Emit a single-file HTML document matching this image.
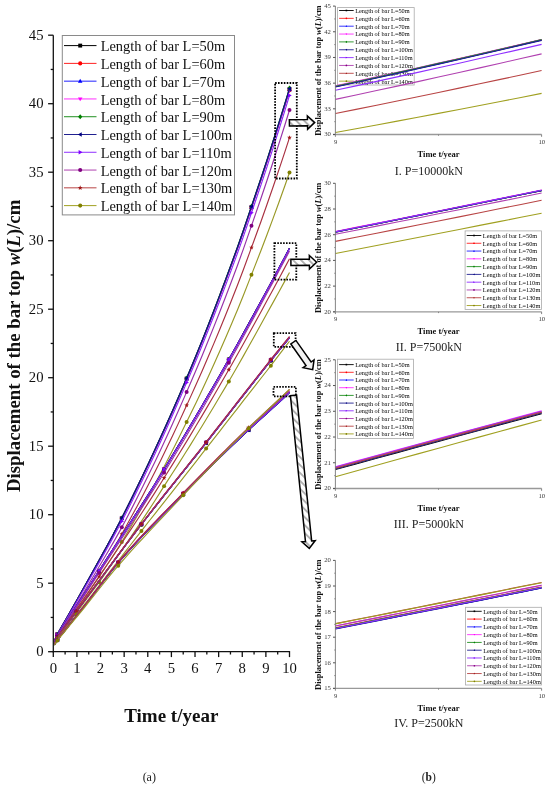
<!DOCTYPE html>
<html><head><meta charset="utf-8"><style>
html,body{margin:0;padding:0;background:#fff;}
body{width:550px;height:788px;position:relative;overflow:hidden;}
svg text{font-family:"Liberation Serif","Times New Roman",serif;}
</style></head><body>
<svg width="550" height="788" viewBox="0 0 550 788" style="position:absolute;left:0;top:0">
<defs><pattern id="hatch" patternUnits="userSpaceOnUse" width="5.6" height="4" patternTransform="rotate(-45)"><rect width="5.6" height="4" fill="#fff"/><rect width="1.9" height="4" fill="#b0b0b0"/></pattern><linearGradient id="g3" x1="0" y1="0" x2="1" y2="0"><stop offset="0" stop-color="#fff"/><stop offset="0.5" stop-color="#ccc"/><stop offset="1" stop-color="#fff"/></linearGradient></defs>
<rect x="62.3" y="35.5" width="172.2" height="179.4" fill="#fff" stroke="#8a8a8a" stroke-width="1"/>
<line x1="64" y1="45.6" x2="96.5" y2="45.6" stroke="#000000" stroke-width="1"/>
<rect x="78.25" y="43.65" width="3.9" height="3.9" fill="#000000"/>
<text x="100.7" y="51.2" font-size="14.4" fill="#111">Length of bar L=50m</text>
<line x1="64" y1="63.38" x2="96.5" y2="63.38" stroke="#FF2020" stroke-width="1"/>
<circle cx="80.2" cy="63.38" r="2.05" fill="#FF0000"/>
<text x="100.7" y="68.98" font-size="14.4" fill="#111">Length of bar L=60m</text>
<line x1="64" y1="81.16" x2="96.5" y2="81.16" stroke="#2020FF" stroke-width="1"/>
<polygon points="80.2,78.82 82.44,82.72 77.96,82.72" fill="#0000FF"/>
<text x="100.7" y="86.76" font-size="14.4" fill="#111">Length of bar L=70m</text>
<line x1="64" y1="98.94" x2="96.5" y2="98.94" stroke="#FF30FF" stroke-width="1"/>
<polygon points="80.2,101.28 82.44,97.38 77.96,97.38" fill="#FF00FF"/>
<text x="100.7" y="104.54" font-size="14.4" fill="#111">Length of bar L=80m</text>
<line x1="64" y1="116.72" x2="96.5" y2="116.72" stroke="#209020" stroke-width="1"/>
<polygon points="80.2,114.19 82.34,116.72 80.2,119.25 78.06,116.72" fill="#008000"/>
<text x="100.7" y="122.32" font-size="14.4" fill="#111">Length of bar L=90m</text>
<line x1="64" y1="134.5" x2="96.5" y2="134.5" stroke="#202090" stroke-width="1"/>
<polygon points="77.86,134.5 81.76,132.26 81.76,136.74" fill="#000080"/>
<text x="100.7" y="140.1" font-size="14.4" fill="#111">Length of bar L=100m</text>
<line x1="64" y1="152.28" x2="96.5" y2="152.28" stroke="#9030FF" stroke-width="1"/>
<polygon points="82.54,152.28 78.64,150.04 78.64,154.52" fill="#8000FF"/>
<text x="100.7" y="157.88" font-size="14.4" fill="#111">Length of bar L=110m</text>
<line x1="64" y1="170.06" x2="96.5" y2="170.06" stroke="#B040B0" stroke-width="1"/>
<circle cx="80.2" cy="170.06" r="2.05" fill="#800080"/>
<text x="100.7" y="175.66" font-size="14.4" fill="#111">Length of bar L=120m</text>
<line x1="64" y1="187.84" x2="96.5" y2="187.84" stroke="#B84444" stroke-width="1"/>
<polygon points="80.2,185.31 80.83,186.97 82.61,187.06 81.22,188.17 81.69,189.89 80.2,188.91 78.71,189.89 79.18,188.17 77.79,187.06 79.57,186.97" fill="#A01818"/>
<text x="100.7" y="193.44" font-size="14.4" fill="#111">Length of bar L=130m</text>
<line x1="64" y1="205.62" x2="96.5" y2="205.62" stroke="#A0A020" stroke-width="1"/>
<circle cx="80.2" cy="205.62" r="2.05" fill="#808000"/>
<text x="100.7" y="211.22" font-size="14.4" fill="#111">Length of bar L=140m</text>
<polyline points="54.48,640.75 57.32,634.18 60.39,628.92 66.29,618.71 72.2,608.4 78.1,598 84.01,587.52 89.91,576.94 95.82,566.29 101.72,555.65 107.63,544.92 113.53,533.99 119.44,522.74 125.34,511.11 131.25,499.27 137.15,487.25 143.06,475.04 148.96,462.63 154.87,450.03 160.77,437.21 166.68,424.18 172.58,410.94 178.49,397.48 184.39,383.78 190.3,369.84 196.2,355.58 202.11,341 208.01,326.12 213.92,310.94 219.82,295.49 225.73,279.77 231.63,263.8 237.54,247.59 243.44,230.78 249.35,213.32 255.25,195.92 261.16,178.46 267.06,160.57 272.97,142.27 278.87,123.64 284.78,104.66 289.5,89.19" fill="none" stroke="#000000" stroke-width="1.15"/>
<rect x="55.42" y="632.28" width="3.8" height="3.8" fill="#000000"/>
<rect x="119.9" y="516.22" width="3.8" height="3.8" fill="#000000"/>
<rect x="184.73" y="376.62" width="3.8" height="3.8" fill="#000000"/>
<rect x="249.57" y="205.13" width="3.8" height="3.8" fill="#000000"/>
<rect x="287.6" y="87.29" width="3.8" height="3.8" fill="#000000"/>
<polyline points="54.48,640.77 57.32,634.22 60.39,628.96 66.29,618.78 72.2,608.49 78.1,598.11 84.01,587.64 89.91,577.09 95.82,566.46 101.72,555.84 107.63,545.13 113.53,534.22 119.44,523 125.34,511.39 131.25,499.58 137.15,487.58 143.06,475.39 148.96,463.01 154.87,450.43 160.77,437.64 166.68,424.64 172.58,411.42 178.49,397.99 184.39,384.32 190.3,370.41 196.2,356.17 202.11,341.62 208.01,326.77 213.92,311.62 219.82,296.2 225.73,280.52 231.63,264.58 237.54,248.4 243.44,231.62 249.35,214.2 255.25,196.83 261.16,179.41 267.06,161.55 272.97,143.29 278.87,124.7 284.78,105.75 289.5,90.32" fill="none" stroke="#FF1818" stroke-width="1.15"/>
<circle cx="57.32" cy="634.22" r="1.99" fill="#FF0000"/>
<circle cx="121.8" cy="518.39" r="1.99" fill="#FF0000"/>
<circle cx="186.63" cy="379.07" r="1.99" fill="#FF0000"/>
<circle cx="251.47" cy="207.92" r="1.99" fill="#FF0000"/>
<circle cx="289.5" cy="90.32" r="1.99" fill="#FF0000"/>
<polyline points="54.48,640.76 57.32,634.2 60.39,628.94 66.29,618.74 72.2,608.45 78.1,598.06 84.01,587.58 89.91,577.02 95.82,566.38 101.72,555.74 107.63,545.03 113.53,534.11 119.44,522.87 125.34,511.25 131.25,499.43 137.15,487.42 143.06,475.22 148.96,462.82 154.87,450.23 160.77,437.43 166.68,424.41 172.58,411.18 178.49,397.73 184.39,384.05 190.3,370.12 196.2,355.88 202.11,341.31 208.01,326.44 213.92,311.28 219.82,295.85 225.73,280.14 231.63,264.19 237.54,247.99 243.44,231.2 249.35,213.76 255.25,196.38 261.16,178.93 267.06,161.06 272.97,142.78 278.87,124.17 284.78,105.21 289.5,89.76" fill="none" stroke="#1818FF" stroke-width="1.15"/>
<polygon points="57.32,631.92 59.5,635.72 55.13,635.72" fill="#0000FF"/>
<polygon points="121.8,515.98 123.98,519.78 119.61,519.78" fill="#0000FF"/>
<polygon points="186.63,376.51 188.82,380.31 184.45,380.31" fill="#0000FF"/>
<polygon points="251.47,205.2 253.66,209 249.29,209" fill="#0000FF"/>
<polygon points="289.5,87.48 291.69,91.28 287.31,91.28" fill="#0000FF"/>
<polyline points="54.48,640.75 57.32,634.18 60.39,628.92 66.29,618.71 72.2,608.4 78.1,598 84.01,587.52 89.91,576.94 95.82,566.29 101.72,555.65 107.63,544.92 113.53,533.99 119.44,522.74 125.34,511.11 131.25,499.27 137.15,487.25 143.06,475.04 148.96,462.63 154.87,450.03 160.77,437.21 166.68,424.18 172.58,410.94 178.49,397.48 184.39,383.78 190.3,369.84 196.2,355.58 202.11,341 208.01,326.12 213.92,310.94 219.82,295.49 225.73,279.77 231.63,263.8 237.54,247.59 243.44,230.78 249.35,213.32 255.25,195.92 261.16,178.46 267.06,160.57 272.97,142.27 278.87,123.64 284.78,104.66 289.5,89.19" fill="none" stroke="#FF20FF" stroke-width="1.15"/>
<polygon points="57.32,636.46 59.5,632.66 55.13,632.66" fill="#FF00FF"/>
<polygon points="121.8,520.4 123.98,516.6 119.61,516.6" fill="#FF00FF"/>
<polygon points="186.63,380.8 188.82,377 184.45,377" fill="#FF00FF"/>
<polygon points="251.47,209.31 253.66,205.51 249.29,205.51" fill="#FF00FF"/>
<polygon points="289.5,91.47 291.69,87.67 287.31,87.67" fill="#FF00FF"/>
<polyline points="54.48,640.73 57.32,634.15 60.39,628.87 66.29,618.64 72.2,608.32 78.1,597.9 84.01,587.39 89.91,576.79 95.82,566.12 101.72,555.46 107.63,544.71 113.53,533.75 119.44,522.48 125.34,510.83 131.25,498.97 137.15,486.92 143.06,474.69 148.96,462.26 154.87,449.62 160.77,436.78 166.68,423.73 172.58,410.46 178.49,396.97 184.39,383.25 190.3,369.28 196.2,354.99 202.11,340.38 208.01,325.46 213.92,310.26 219.82,294.78 225.73,279.03 231.63,263.02 237.54,246.78 243.44,229.94 249.35,212.44 255.25,195.01 261.16,177.51 267.06,159.59 272.97,141.25 278.87,122.59 284.78,103.56 289.5,88.07" fill="none" stroke="#108010" stroke-width="1.15"/>
<polygon points="57.32,631.68 59.41,634.15 57.32,636.62 55.23,634.15" fill="#008000"/>
<polygon points="121.8,515.38 123.89,517.85 121.8,520.32 119.71,517.85" fill="#008000"/>
<polygon points="186.63,375.5 188.72,377.97 186.63,380.44 184.54,377.97" fill="#008000"/>
<polygon points="251.47,203.67 253.56,206.14 251.47,208.61 249.38,206.14" fill="#008000"/>
<polygon points="289.5,85.6 291.59,88.07 289.5,90.54 287.41,88.07" fill="#008000"/>
<polyline points="54.48,640.74 57.32,634.16 60.39,628.89 66.29,618.68 72.2,608.36 78.1,597.95 84.01,587.45 89.91,576.87 95.82,566.21 101.72,555.55 107.63,544.81 113.53,533.87 119.44,522.61 125.34,510.97 131.25,499.12 137.15,487.09 143.06,474.86 148.96,462.44 154.87,449.82 160.77,437 166.68,423.96 172.58,410.7 178.49,397.22 184.39,383.52 190.3,369.56 196.2,355.28 202.11,340.69 208.01,325.79 213.92,310.6 219.82,295.13 225.73,279.4 231.63,263.41 237.54,247.18 243.44,230.36 249.35,212.88 255.25,195.46 261.16,177.99 267.06,160.08 272.97,141.76 278.87,123.11 284.78,104.11 289.5,88.63" fill="none" stroke="#101088" stroke-width="1.15"/>
<polygon points="55.04,634.16 58.84,631.98 58.84,636.35" fill="#000080"/>
<polygon points="119.52,517.99 123.32,515.8 123.32,520.17" fill="#000080"/>
<polygon points="184.35,378.25 188.15,376.06 188.15,380.43" fill="#000080"/>
<polygon points="249.19,206.59 252.99,204.4 252.99,208.77" fill="#000080"/>
<polygon points="287.22,88.63 291.02,86.44 291.02,90.81" fill="#000080"/>
<polyline points="54.48,641.01 57.32,634.6 60.39,629.46 66.29,619.5 72.2,609.44 78.1,599.29 84.01,589.06 89.91,578.74 95.82,568.35 101.72,557.95 107.63,547.48 113.53,536.82 119.44,525.84 125.34,514.42 131.25,502.73 137.15,490.85 143.06,478.76 148.96,466.46 154.87,453.94 160.77,441.2 166.68,428.23 172.58,415.03 178.49,401.58 184.39,387.89 190.3,374.04 196.2,359.94 202.11,345.52 208.01,330.79 213.92,315.77 219.82,300.47 225.73,284.91 231.63,269.09 237.54,253.02 243.44,236.36 249.35,219.05 255.25,201.76 261.16,184.38 267.06,166.56 272.97,148.32 278.87,129.75 284.78,110.82 289.5,95.39" fill="none" stroke="#8828F8" stroke-width="1.15"/>
<polygon points="59.6,634.6 55.8,632.42 55.8,636.79" fill="#8000FF"/>
<polygon points="124.08,521.33 120.28,519.15 120.28,523.52" fill="#8000FF"/>
<polygon points="188.91,382.62 185.11,380.44 185.11,384.81" fill="#8000FF"/>
<polygon points="253.75,212.82 249.95,210.63 249.95,215" fill="#8000FF"/>
<polygon points="291.78,95.39 287.98,93.2 287.98,97.57" fill="#8000FF"/>
<polyline points="54.48,641.51 57.32,635.39 60.39,630.49 66.29,620.99 72.2,611.39 78.1,601.71 84.01,591.95 89.91,582.1 95.82,572.19 101.72,562.28 107.63,552.29 113.53,542.12 119.44,531.65 125.34,520.66 131.25,509.36 137.15,497.83 143.06,486.08 148.96,474.11 154.87,461.9 160.77,449.44 166.68,436.75 172.58,423.79 178.49,410.59 184.39,397.11 190.3,383.56 196.2,369.8 202.11,355.72 208.01,341.33 213.92,326.65 219.82,311.68 225.73,296.44 231.63,280.94 237.54,265.19 243.44,248.84 249.35,231.85 255.25,214.85 261.16,197.75 267.06,180.21 272.97,162.25 278.87,143.94 284.78,125.26 289.5,110.03" fill="none" stroke="#9830A8" stroke-width="1.15"/>
<circle cx="57.32" cy="635.39" r="1.99" fill="#800080"/>
<circle cx="121.8" cy="527.35" r="1.99" fill="#800080"/>
<circle cx="186.63" cy="391.92" r="1.99" fill="#800080"/>
<circle cx="251.47" cy="225.73" r="1.99" fill="#800080"/>
<circle cx="289.5" cy="110.03" r="1.99" fill="#800080"/>
<polyline points="54.48,642.07 57.32,636.29 60.39,631.65 66.29,622.67 72.2,613.6 78.1,604.45 84.01,595.23 89.91,585.92 95.82,576.55 101.72,567.19 107.63,557.75 113.53,548.13 119.44,538.23 125.34,527.83 131.25,517.09 137.15,506.15 143.06,494.99 148.96,483.6 154.87,471.99 160.77,460.14 166.68,448.05 172.58,435.71 178.49,423.12 184.39,410.27 190.3,397.38 196.2,384.32 202.11,370.96 208.01,357.3 213.92,343.37 219.82,329.16 225.73,314.69 231.63,299.97 237.54,285.01 243.44,269.49 249.35,253.35 255.25,237.21 261.16,220.96 267.06,204.3 272.97,187.23 278.87,169.84 284.78,152.09 289.5,137.62" fill="none" stroke="#A83040" stroke-width="1.15"/>
<polygon points="57.32,633.82 57.93,635.44 59.66,635.52 58.31,636.61 58.77,638.28 57.32,637.33 55.86,638.28 56.32,636.61 54.97,635.52 56.7,635.44" fill="#A01818"/>
<polygon points="121.8,531.7 122.41,533.32 124.15,533.4 122.79,534.49 123.25,536.17 121.8,535.21 120.35,536.17 120.8,534.49 119.45,533.4 121.18,533.32" fill="#A01818"/>
<polygon points="186.63,402.85 187.25,404.47 188.98,404.56 187.63,405.64 188.09,407.32 186.63,406.36 185.18,407.32 185.64,405.64 184.29,404.56 186.02,404.47" fill="#A01818"/>
<polygon points="251.47,245.07 252.09,246.69 253.82,246.77 252.47,247.86 252.92,249.54 251.47,248.58 250.02,249.54 250.48,247.86 249.12,246.77 250.86,246.69" fill="#A01818"/>
<polygon points="289.5,135.15 290.11,136.77 291.85,136.85 290.49,137.94 290.95,139.62 289.5,138.66 288.05,139.62 288.51,137.94 287.15,136.85 288.89,136.77" fill="#A01818"/>
<polyline points="54.48,642.71 57.32,637.32 60.39,633 66.29,624.62 72.2,616.16 78.1,607.63 84.01,599.02 89.91,590.34 95.82,581.6 101.72,572.86 107.63,564.05 113.53,555.08 119.44,545.85 125.34,536.15 131.25,526.14 137.15,515.94 143.06,505.53 148.96,494.92 154.87,484.1 160.77,473.06 166.68,461.8 172.58,450.3 178.49,438.58 184.39,426.61 190.3,414.59 196.2,402.4 202.11,389.93 208.01,377.18 213.92,364.17 219.82,350.91 225.73,337.4 231.63,323.65 237.54,309.68 243.44,295.19 249.35,280.12 255.25,265.09 261.16,249.98 267.06,234.49 272.97,218.63 278.87,202.46 284.78,185.97 289.5,172.53" fill="none" stroke="#989826" stroke-width="1.15"/>
<circle cx="57.32" cy="637.32" r="1.99" fill="#808000"/>
<circle cx="121.8" cy="542.06" r="1.99" fill="#808000"/>
<circle cx="186.63" cy="422" r="1.99" fill="#808000"/>
<circle cx="251.47" cy="274.69" r="1.99" fill="#808000"/>
<circle cx="289.5" cy="172.53" r="1.99" fill="#808000"/>
<polyline points="54.48,641.84 57.32,635.81 60.39,631.05 66.29,621.89 72.2,612.73 78.1,603.57 84.01,594.39 89.91,585.21 95.82,576.02 101.72,566.83 107.63,557.68 113.53,548.56 119.44,539.45 125.34,530.35 131.25,521.23 137.15,512.07 143.06,502.85 148.96,493.57 154.87,484.19 160.77,474.71 166.68,465.12 172.58,455.42 178.49,445.65 184.39,435.8 190.3,425.87 196.2,415.87 202.11,405.79 208.01,395.66 213.92,385.45 219.82,375.19 225.73,364.87 231.63,354.48 237.54,343.98 243.44,333.36 249.35,322.65 255.25,311.87 261.16,301.04 267.06,290.17 272.97,279.24 278.87,268.23 284.78,257.15 289.5,248.24" fill="none" stroke="#000000" stroke-width="1.15"/>
<rect x="55.42" y="633.91" width="3.8" height="3.8" fill="#000000"/>
<rect x="97.22" y="568.97" width="3.8" height="3.8" fill="#000000"/>
<rect x="162.18" y="467.45" width="3.8" height="3.8" fill="#000000"/>
<rect x="226.9" y="357.58" width="3.8" height="3.8" fill="#000000"/>
<polyline points="54.48,641.84 57.32,635.81 60.39,631.05 66.29,621.89 72.2,612.73 78.1,603.57 84.01,594.39 89.91,585.21 95.82,576.02 101.72,566.83 107.63,557.68 113.53,548.56 119.44,539.45 125.34,530.35 131.25,521.23 137.15,512.07 143.06,502.85 148.96,493.57 154.87,484.19 160.77,474.71 166.68,465.12 172.58,455.42 178.49,445.65 184.39,435.8 190.3,425.87 196.2,415.87 202.11,405.79 208.01,395.66 213.92,385.45 219.82,375.19 225.73,364.87 231.63,354.48 237.54,343.98 243.44,333.36 249.35,322.65 255.25,311.87 261.16,301.04 267.06,290.17 272.97,279.24 278.87,268.23 284.78,257.15 289.5,248.24" fill="none" stroke="#FF1818" stroke-width="1.15"/>
<circle cx="57.32" cy="635.81" r="1.99" fill="#FF0000"/>
<circle cx="99.12" cy="570.87" r="1.99" fill="#FF0000"/>
<circle cx="164.08" cy="469.35" r="1.99" fill="#FF0000"/>
<circle cx="228.8" cy="359.48" r="1.99" fill="#FF0000"/>
<polyline points="54.48,641.84 57.32,635.81 60.39,631.05 66.29,621.89 72.2,612.73 78.1,603.57 84.01,594.39 89.91,585.21 95.82,576.02 101.72,566.83 107.63,557.68 113.53,548.56 119.44,539.45 125.34,530.35 131.25,521.23 137.15,512.07 143.06,502.85 148.96,493.57 154.87,484.19 160.77,474.71 166.68,465.12 172.58,455.42 178.49,445.65 184.39,435.8 190.3,425.87 196.2,415.87 202.11,405.79 208.01,395.66 213.92,385.45 219.82,375.19 225.73,364.87 231.63,354.48 237.54,343.98 243.44,333.36 249.35,322.65 255.25,311.87 261.16,301.04 267.06,290.17 272.97,279.24 278.87,268.23 284.78,257.15 289.5,248.24" fill="none" stroke="#1818FF" stroke-width="1.15"/>
<polygon points="57.32,633.53 59.5,637.33 55.13,637.33" fill="#0000FF"/>
<polygon points="99.12,568.59 101.31,572.39 96.94,572.39" fill="#0000FF"/>
<polygon points="164.08,467.07 166.26,470.87 161.89,470.87" fill="#0000FF"/>
<polygon points="228.8,357.2 230.98,361 226.61,361" fill="#0000FF"/>
<polyline points="54.48,641.84 57.32,635.81 60.39,631.05 66.29,621.89 72.2,612.73 78.1,603.57 84.01,594.39 89.91,585.21 95.82,576.02 101.72,566.83 107.63,557.68 113.53,548.56 119.44,539.45 125.34,530.35 131.25,521.23 137.15,512.07 143.06,502.85 148.96,493.57 154.87,484.19 160.77,474.71 166.68,465.12 172.58,455.42 178.49,445.65 184.39,435.8 190.3,425.87 196.2,415.87 202.11,405.79 208.01,395.66 213.92,385.45 219.82,375.19 225.73,364.87 231.63,354.48 237.54,343.98 243.44,333.36 249.35,322.65 255.25,311.87 261.16,301.04 267.06,290.17 272.97,279.24 278.87,268.23 284.78,257.15 289.5,248.24" fill="none" stroke="#FF20FF" stroke-width="1.15"/>
<polygon points="57.32,638.09 59.5,634.29 55.13,634.29" fill="#FF00FF"/>
<polygon points="99.12,573.15 101.31,569.35 96.94,569.35" fill="#FF00FF"/>
<polygon points="164.08,471.63 166.26,467.83 161.89,467.83" fill="#FF00FF"/>
<polygon points="228.8,361.76 230.98,357.96 226.61,357.96" fill="#FF00FF"/>
<polyline points="54.48,641.84 57.32,635.81 60.39,631.05 66.29,621.89 72.2,612.73 78.1,603.57 84.01,594.39 89.91,585.21 95.82,576.02 101.72,566.83 107.63,557.68 113.53,548.56 119.44,539.45 125.34,530.35 131.25,521.23 137.15,512.07 143.06,502.85 148.96,493.57 154.87,484.19 160.77,474.71 166.68,465.12 172.58,455.42 178.49,445.65 184.39,435.8 190.3,425.87 196.2,415.87 202.11,405.79 208.01,395.66 213.92,385.45 219.82,375.19 225.73,364.87 231.63,354.48 237.54,343.98 243.44,333.36 249.35,322.65 255.25,311.87 261.16,301.04 267.06,290.17 272.97,279.24 278.87,268.23 284.78,257.15 289.5,248.24" fill="none" stroke="#108010" stroke-width="1.15"/>
<polygon points="57.32,633.34 59.41,635.81 57.32,638.28 55.23,635.81" fill="#008000"/>
<polygon points="99.12,568.4 101.21,570.87 99.12,573.34 97.03,570.87" fill="#008000"/>
<polygon points="164.08,466.88 166.17,469.35 164.08,471.82 161.99,469.35" fill="#008000"/>
<polygon points="228.8,357.01 230.89,359.48 228.8,361.95 226.71,359.48" fill="#008000"/>
<polyline points="54.48,641.84 57.32,635.81 60.39,631.05 66.29,621.89 72.2,612.73 78.1,603.57 84.01,594.39 89.91,585.21 95.82,576.02 101.72,566.83 107.63,557.68 113.53,548.56 119.44,539.45 125.34,530.35 131.25,521.23 137.15,512.07 143.06,502.85 148.96,493.57 154.87,484.19 160.77,474.71 166.68,465.12 172.58,455.42 178.49,445.65 184.39,435.8 190.3,425.87 196.2,415.87 202.11,405.79 208.01,395.66 213.92,385.45 219.82,375.19 225.73,364.87 231.63,354.48 237.54,343.98 243.44,333.36 249.35,322.65 255.25,311.87 261.16,301.04 267.06,290.17 272.97,279.24 278.87,268.23 284.78,257.15 289.5,248.24" fill="none" stroke="#101088" stroke-width="1.15"/>
<polygon points="55.04,635.81 58.84,633.62 58.84,637.99" fill="#000080"/>
<polygon points="96.84,570.87 100.64,568.69 100.64,573.05" fill="#000080"/>
<polygon points="161.8,469.35 165.6,467.17 165.6,471.54" fill="#000080"/>
<polygon points="226.52,359.48 230.32,357.29 230.32,361.66" fill="#000080"/>
<polyline points="54.48,641.85 57.32,635.82 60.39,631.07 66.29,621.92 72.2,612.77 78.1,603.61 84.01,594.45 89.91,585.28 95.82,576.1 101.72,566.91 107.63,557.77 113.53,548.66 119.44,539.57 125.34,530.47 131.25,521.36 137.15,512.21 143.06,503 148.96,493.73 154.87,484.36 160.77,474.89 166.68,465.3 172.58,455.62 178.49,445.86 184.39,436.01 190.3,426.1 196.2,416.1 202.11,406.04 208.01,395.91 213.92,385.72 219.82,375.47 225.73,365.15 231.63,354.78 237.54,344.28 243.44,333.68 249.35,322.98 255.25,312.21 261.16,301.39 267.06,290.53 272.97,279.61 278.87,268.61 284.78,257.54 289.5,248.64" fill="none" stroke="#8828F8" stroke-width="1.15"/>
<polygon points="59.6,635.82 55.8,633.64 55.8,638.01" fill="#8000FF"/>
<polygon points="101.4,570.95 97.6,568.77 97.6,573.14" fill="#8000FF"/>
<polygon points="166.36,469.54 162.56,467.35 162.56,471.72" fill="#8000FF"/>
<polygon points="231.08,359.77 227.28,357.59 227.28,361.96" fill="#8000FF"/>
<polyline points="54.48,642.08 57.32,636.21 60.39,631.57 66.29,622.64 72.2,613.71 78.1,604.77 84.01,595.82 89.91,586.87 95.82,577.91 101.72,568.93 107.63,559.94 113.53,550.98 119.44,542.01 125.34,533.04 131.25,524.04 137.15,514.98 143.06,505.87 148.96,496.67 154.87,487.37 160.77,477.96 166.68,468.42 172.58,458.78 178.49,449.04 184.39,439.21 190.3,429.29 196.2,419.29 202.11,409.21 208.01,399.05 213.92,388.81 219.82,378.5 225.73,368.12 231.63,357.68 237.54,347.14 243.44,336.48 249.35,325.72 255.25,314.88 261.16,303.98 267.06,293.05 272.97,282.11 278.87,271.09 284.78,259.99 289.5,251.06" fill="none" stroke="#9830A8" stroke-width="1.15"/>
<circle cx="57.32" cy="636.21" r="1.99" fill="#800080"/>
<circle cx="99.12" cy="572.89" r="1.99" fill="#800080"/>
<circle cx="164.08" cy="472.63" r="1.99" fill="#800080"/>
<circle cx="228.8" cy="362.69" r="1.99" fill="#800080"/>
<polyline points="54.48,642.53 57.32,636.92 60.39,632.49 66.29,623.98 72.2,615.46 78.1,606.93 84.01,598.4 89.91,589.86 95.82,581.32 101.72,572.69 107.63,563.97 113.53,555.25 119.44,546.5 125.34,537.72 131.25,528.88 137.15,519.96 143.06,510.96 148.96,501.85 154.87,492.61 160.77,483.24 166.68,473.8 172.58,464.34 178.49,454.79 184.39,445.13 190.3,435.39 196.2,425.55 202.11,415.62 208.01,405.6 213.92,395.51 219.82,385.33 225.73,375.07 231.63,364.75 237.54,354.31 243.44,343.75 249.35,333.07 255.25,322.31 261.16,311.47 267.06,300.6 272.97,289.71 278.87,278.72 284.78,267.64 289.5,258.73" fill="none" stroke="#A83040" stroke-width="1.15"/>
<polygon points="57.32,634.45 57.93,636.08 59.66,636.16 58.31,637.24 58.77,638.92 57.32,637.97 55.86,638.92 56.32,637.24 54.97,636.16 56.7,636.08" fill="#A01818"/>
<polygon points="99.12,574.06 99.74,575.68 101.47,575.76 100.12,576.85 100.57,578.53 99.12,577.57 97.67,578.53 98.13,576.85 96.77,575.76 98.51,575.68" fill="#A01818"/>
<polygon points="164.08,475.45 164.69,477.08 166.43,477.16 165.07,478.25 165.53,479.92 164.08,478.97 162.63,479.92 163.08,478.25 161.73,477.16 163.46,477.08" fill="#A01818"/>
<polygon points="228.8,367.24 229.41,368.86 231.15,368.94 229.79,370.03 230.25,371.71 228.8,370.75 227.34,371.71 227.8,370.03 226.45,368.94 228.18,368.86" fill="#A01818"/>
<polyline points="54.48,643.22 57.32,638.03 60.39,633.94 66.29,626.07 72.2,618.19 78.1,610.3 84.01,602.41 89.91,594.52 95.82,586.61 101.72,578.55 107.63,570.25 113.53,561.9 119.44,553.48 125.34,544.99 131.25,536.4 137.15,527.69 143.06,518.86 148.96,509.88 154.87,500.75 160.77,491.43 166.68,482.15 172.58,473.04 178.49,463.83 184.39,454.51 190.3,445.09 196.2,435.57 202.11,425.96 208.01,416.26 213.92,406.46 219.82,396.58 225.73,386.61 231.63,376.52 237.54,366.26 243.44,355.85 249.35,345.32 255.25,334.69 261.16,323.97 267.06,313.24 272.97,302.63 278.87,291.93 284.78,281.13 289.5,272.44" fill="none" stroke="#989826" stroke-width="1.15"/>
<circle cx="57.32" cy="638.03" r="1.99" fill="#808000"/>
<circle cx="99.12" cy="582.19" r="1.99" fill="#808000"/>
<circle cx="164.08" cy="486.13" r="1.99" fill="#808000"/>
<circle cx="228.8" cy="381.4" r="1.99" fill="#808000"/>
<polyline points="54.48,643.22 57.32,637.75 60.39,633.53 66.29,625.41 72.2,617.32 78.1,609.28 84.01,601.25 89.91,593.23 95.82,585.22 101.72,577.22 107.63,569.24 113.53,561.3 119.44,553.39 125.34,545.52 131.25,537.71 137.15,529.95 143.06,522.26 148.96,514.65 154.87,507.11 160.77,499.63 166.68,492.2 172.58,484.8 178.49,477.42 184.39,470.05 190.3,462.68 196.2,455.28 202.11,447.86 208.01,440.39 213.92,432.88 219.82,425.34 225.73,417.78 231.63,410.21 237.54,402.65 243.44,395.09 249.35,387.56 255.25,380.05 261.16,372.59 267.06,365.18 272.97,357.84 278.87,350.58 284.78,343.38 289.5,337.64" fill="none" stroke="#000000" stroke-width="1.15"/>
<rect x="55.42" y="635.85" width="3.8" height="3.8" fill="#000000"/>
<rect x="74.67" y="609.47" width="3.8" height="3.8" fill="#000000"/>
<rect x="139.5" y="522.51" width="3.8" height="3.8" fill="#000000"/>
<rect x="204.22" y="440.88" width="3.8" height="3.8" fill="#000000"/>
<rect x="268.94" y="358.57" width="3.8" height="3.8" fill="#000000"/>
<polyline points="54.48,643.22 57.32,637.75 60.39,633.53 66.29,625.41 72.2,617.32 78.1,609.28 84.01,601.25 89.91,593.23 95.82,585.22 101.72,577.22 107.63,569.24 113.53,561.3 119.44,553.39 125.34,545.52 131.25,537.71 137.15,529.95 143.06,522.26 148.96,514.65 154.87,507.11 160.77,499.63 166.68,492.2 172.58,484.8 178.49,477.42 184.39,470.05 190.3,462.68 196.2,455.28 202.11,447.86 208.01,440.39 213.92,432.88 219.82,425.34 225.73,417.78 231.63,410.21 237.54,402.65 243.44,395.09 249.35,387.56 255.25,380.05 261.16,372.59 267.06,365.18 272.97,357.84 278.87,350.58 284.78,343.38 289.5,337.64" fill="none" stroke="#FF1818" stroke-width="1.15"/>
<circle cx="57.32" cy="637.75" r="1.99" fill="#FF0000"/>
<circle cx="76.57" cy="611.37" r="1.99" fill="#FF0000"/>
<circle cx="141.4" cy="524.41" r="1.99" fill="#FF0000"/>
<circle cx="206.12" cy="442.78" r="1.99" fill="#FF0000"/>
<circle cx="270.84" cy="360.47" r="1.99" fill="#FF0000"/>
<polyline points="54.48,643.22 57.32,637.75 60.39,633.53 66.29,625.41 72.2,617.32 78.1,609.28 84.01,601.25 89.91,593.23 95.82,585.22 101.72,577.22 107.63,569.24 113.53,561.3 119.44,553.39 125.34,545.52 131.25,537.71 137.15,529.95 143.06,522.26 148.96,514.65 154.87,507.11 160.77,499.63 166.68,492.2 172.58,484.8 178.49,477.42 184.39,470.05 190.3,462.68 196.2,455.28 202.11,447.86 208.01,440.39 213.92,432.88 219.82,425.34 225.73,417.78 231.63,410.21 237.54,402.65 243.44,395.09 249.35,387.56 255.25,380.05 261.16,372.59 267.06,365.18 272.97,357.84 278.87,350.58 284.78,343.38 289.5,337.64" fill="none" stroke="#1818FF" stroke-width="1.15"/>
<polygon points="57.32,635.47 59.5,639.27 55.13,639.27" fill="#0000FF"/>
<polygon points="76.57,609.09 78.75,612.89 74.38,612.89" fill="#0000FF"/>
<polygon points="141.4,522.13 143.59,525.93 139.22,525.93" fill="#0000FF"/>
<polygon points="206.12,440.5 208.31,444.3 203.94,444.3" fill="#0000FF"/>
<polygon points="270.84,358.19 273.03,361.99 268.66,361.99" fill="#0000FF"/>
<polyline points="54.48,643.21 57.32,637.74 60.39,633.51 66.29,625.38 72.2,617.28 78.1,609.24 84.01,601.2 89.91,593.17 95.82,585.15 101.72,577.14 107.63,569.16 113.53,561.21 119.44,553.29 125.34,545.42 131.25,537.59 137.15,529.83 143.06,522.13 148.96,514.51 154.87,506.97 160.77,499.48 166.68,492.04 172.58,484.63 178.49,477.25 184.39,469.87 190.3,462.49 196.2,455.09 202.11,447.65 208.01,440.18 213.92,432.66 219.82,425.11 225.73,417.55 231.63,409.97 237.54,402.4 243.44,394.83 249.35,387.29 255.25,379.78 261.16,372.31 267.06,364.9 272.97,357.54 278.87,350.27 284.78,343.07 289.5,337.33" fill="none" stroke="#FF20FF" stroke-width="1.15"/>
<polygon points="57.32,640.02 59.5,636.22 55.13,636.22" fill="#FF00FF"/>
<polygon points="76.57,613.61 78.75,609.81 74.38,609.81" fill="#FF00FF"/>
<polygon points="141.4,526.56 143.59,522.76 139.22,522.76" fill="#FF00FF"/>
<polygon points="206.12,444.85 208.31,441.05 203.94,441.05" fill="#FF00FF"/>
<polygon points="270.84,362.46 273.03,358.66 268.66,358.66" fill="#FF00FF"/>
<polyline points="54.48,643.22 57.32,637.75 60.39,633.53 66.29,625.41 72.2,617.32 78.1,609.28 84.01,601.25 89.91,593.23 95.82,585.22 101.72,577.22 107.63,569.24 113.53,561.3 119.44,553.39 125.34,545.52 131.25,537.71 137.15,529.95 143.06,522.26 148.96,514.65 154.87,507.11 160.77,499.63 166.68,492.2 172.58,484.8 178.49,477.42 184.39,470.05 190.3,462.68 196.2,455.28 202.11,447.86 208.01,440.39 213.92,432.88 219.82,425.34 225.73,417.78 231.63,410.21 237.54,402.65 243.44,395.09 249.35,387.56 255.25,380.05 261.16,372.59 267.06,365.18 272.97,357.84 278.87,350.58 284.78,343.38 289.5,337.64" fill="none" stroke="#108010" stroke-width="1.15"/>
<polygon points="57.32,635.28 59.41,637.75 57.32,640.22 55.23,637.75" fill="#008000"/>
<polygon points="76.57,608.9 78.66,611.37 76.57,613.84 74.48,611.37" fill="#008000"/>
<polygon points="141.4,521.94 143.49,524.41 141.4,526.88 139.31,524.41" fill="#008000"/>
<polygon points="206.12,440.31 208.21,442.78 206.12,445.25 204.03,442.78" fill="#008000"/>
<polygon points="270.84,358 272.93,360.47 270.84,362.94 268.75,360.47" fill="#008000"/>
<polyline points="54.48,643.22 57.32,637.75 60.39,633.53 66.29,625.41 72.2,617.32 78.1,609.28 84.01,601.25 89.91,593.23 95.82,585.22 101.72,577.22 107.63,569.24 113.53,561.3 119.44,553.39 125.34,545.52 131.25,537.71 137.15,529.95 143.06,522.26 148.96,514.65 154.87,507.11 160.77,499.63 166.68,492.2 172.58,484.8 178.49,477.42 184.39,470.05 190.3,462.68 196.2,455.28 202.11,447.86 208.01,440.39 213.92,432.88 219.82,425.34 225.73,417.78 231.63,410.21 237.54,402.65 243.44,395.09 249.35,387.56 255.25,380.05 261.16,372.59 267.06,365.18 272.97,357.84 278.87,350.58 284.78,343.38 289.5,337.64" fill="none" stroke="#101088" stroke-width="1.15"/>
<polygon points="55.04,637.75 58.84,635.57 58.84,639.94" fill="#000080"/>
<polygon points="74.29,611.37 78.09,609.18 78.09,613.55" fill="#000080"/>
<polygon points="139.12,524.41 142.92,522.22 142.92,526.59" fill="#000080"/>
<polygon points="203.84,442.78 207.64,440.6 207.64,444.97" fill="#000080"/>
<polygon points="268.56,360.47 272.36,358.29 272.36,362.66" fill="#000080"/>
<polyline points="54.48,643.22 57.32,637.75 60.39,633.53 66.29,625.41 72.2,617.32 78.1,609.28 84.01,601.25 89.91,593.23 95.82,585.22 101.72,577.22 107.63,569.24 113.53,561.3 119.44,553.39 125.34,545.52 131.25,537.71 137.15,529.95 143.06,522.26 148.96,514.65 154.87,507.11 160.77,499.63 166.68,492.2 172.58,484.8 178.49,477.42 184.39,470.05 190.3,462.68 196.2,455.28 202.11,447.86 208.01,440.39 213.92,432.88 219.82,425.34 225.73,417.78 231.63,410.21 237.54,402.65 243.44,395.09 249.35,387.56 255.25,380.05 261.16,372.59 267.06,365.18 272.97,357.84 278.87,350.58 284.78,343.38 289.5,337.64" fill="none" stroke="#8828F8" stroke-width="1.15"/>
<polygon points="59.6,637.75 55.8,635.57 55.8,639.94" fill="#8000FF"/>
<polygon points="78.85,611.37 75.05,609.18 75.05,613.55" fill="#8000FF"/>
<polygon points="143.68,524.41 139.88,522.22 139.88,526.59" fill="#8000FF"/>
<polygon points="208.4,442.78 204.6,440.6 204.6,444.97" fill="#8000FF"/>
<polygon points="273.12,360.47 269.32,358.29 269.32,362.66" fill="#8000FF"/>
<polyline points="54.48,643.2 57.32,637.71 60.39,633.47 66.29,625.33 72.2,617.22 78.1,609.15 84.01,601.1 89.91,593.06 95.82,585.02 101.72,576.99 107.63,569 113.53,561.03 119.44,553.09 125.34,545.2 131.25,537.37 137.15,529.59 143.06,521.87 148.96,514.24 154.87,506.68 160.77,499.18 166.68,491.72 172.58,484.3 178.49,476.9 184.39,469.51 190.3,462.11 196.2,454.69 202.11,447.24 208.01,439.75 213.92,432.22 219.82,424.66 225.73,417.08 231.63,409.49 237.54,401.9 243.44,394.32 249.35,386.76 255.25,379.24 261.16,371.75 267.06,364.32 272.97,356.95 278.87,349.67 284.78,342.45 289.5,336.7" fill="none" stroke="#9830A8" stroke-width="1.15"/>
<circle cx="57.32" cy="637.71" r="1.99" fill="#800080"/>
<circle cx="76.57" cy="611.24" r="1.99" fill="#800080"/>
<circle cx="141.4" cy="524.03" r="1.99" fill="#800080"/>
<circle cx="206.12" cy="442.15" r="1.99" fill="#800080"/>
<circle cx="270.84" cy="359.6" r="1.99" fill="#800080"/>
<polyline points="54.48,643.2 57.32,637.71 60.39,633.47 66.29,625.33 72.2,617.22 78.1,609.15 84.01,601.1 89.91,593.06 95.82,585.02 101.72,576.99 107.63,569 113.53,561.03 119.44,553.09 125.34,545.2 131.25,537.37 137.15,529.59 143.06,521.87 148.96,514.24 154.87,506.68 160.77,499.18 166.68,491.72 172.58,484.3 178.49,476.9 184.39,469.51 190.3,462.11 196.2,454.69 202.11,447.24 208.01,439.75 213.92,432.22 219.82,424.66 225.73,417.08 231.63,409.49 237.54,401.9 243.44,394.32 249.35,386.76 255.25,379.24 261.16,371.75 267.06,364.32 272.97,356.95 278.87,349.67 284.78,342.45 289.5,336.7" fill="none" stroke="#A83040" stroke-width="1.15"/>
<polygon points="57.32,635.24 57.93,636.87 59.66,636.95 58.31,638.03 58.77,639.71 57.32,638.76 55.86,639.71 56.32,638.03 54.97,636.95 56.7,636.87" fill="#A01818"/>
<polygon points="76.57,608.77 77.18,610.4 78.91,610.48 77.56,611.57 78.02,613.24 76.57,612.29 75.11,613.24 75.57,611.57 74.22,610.48 75.95,610.4" fill="#A01818"/>
<polygon points="141.4,521.56 142.02,523.18 143.75,523.26 142.4,524.35 142.85,526.02 141.4,525.07 139.95,526.02 140.41,524.35 139.05,523.26 140.79,523.18" fill="#A01818"/>
<polygon points="206.12,439.68 206.74,441.31 208.47,441.39 207.12,442.48 207.57,444.15 206.12,443.2 204.67,444.15 205.13,442.48 203.77,441.39 205.51,441.31" fill="#A01818"/>
<polygon points="270.84,357.13 271.45,358.75 273.19,358.83 271.83,359.92 272.29,361.6 270.84,360.64 269.39,361.6 269.85,359.92 268.49,358.83 270.23,358.75" fill="#A01818"/>
<polyline points="54.48,643.89 57.32,638.84 60.39,634.95 66.29,627.46 72.2,620.01 78.1,612.57 84.01,605.04 89.91,597.48 95.82,589.88 101.72,582.26 107.63,574.62 113.53,566.97 119.44,559.31 125.34,551.66 131.25,544.02 137.15,536.39 143.06,528.8 148.96,521.27 154.87,513.78 160.77,506.31 166.68,498.85 172.58,491.4 178.49,483.93 184.39,476.43 190.3,468.9 196.2,461.32 202.11,453.68 208.01,446.05 213.92,438.56 219.82,431.03 225.73,423.47 231.63,415.89 237.54,408.29 243.44,400.7 249.35,393.11 255.25,385.54 261.16,378 267.06,370.5 272.97,362.92 278.87,355.16 284.78,347.44 289.5,341.26" fill="none" stroke="#989826" stroke-width="1.15"/>
<circle cx="57.32" cy="638.84" r="1.99" fill="#808000"/>
<circle cx="76.57" cy="614.52" r="1.99" fill="#808000"/>
<circle cx="141.4" cy="530.91" r="1.99" fill="#808000"/>
<circle cx="206.12" cy="448.43" r="1.99" fill="#808000"/>
<circle cx="270.84" cy="365.73" r="1.99" fill="#808000"/>
<polyline points="54.48,644.85 57.32,640.06 60.39,636.22 66.29,628.83 72.2,621.41 78.1,613.96 84.01,606.49 89.91,598.88 95.82,591.13 101.72,583.37 107.63,575.72 113.53,568.31 119.44,561.27 125.34,554.51 131.25,547.93 137.15,541.5 143.06,535.21 148.96,529.02 154.87,522.92 160.77,516.89 166.68,510.9 172.58,504.92 178.49,498.95 184.39,492.95 190.3,486.95 196.2,480.98 202.11,475.04 208.01,469.13 213.92,463.27 219.82,457.44 225.73,451.66 231.63,445.94 237.54,440.26 243.44,434.65 249.35,429.1 255.25,423.71 261.16,418.41 267.06,413.06 272.97,407.65 278.87,402.21 284.78,396.75 289.5,392.36" fill="none" stroke="#000000" stroke-width="1.15"/>
<rect x="55.42" y="638.16" width="3.8" height="3.8" fill="#000000"/>
<rect x="116.35" y="560.75" width="3.8" height="3.8" fill="#000000"/>
<rect x="181.31" y="492.25" width="3.8" height="3.8" fill="#000000"/>
<rect x="246.74" y="427.86" width="3.8" height="3.8" fill="#000000"/>
<polyline points="54.48,644.84 57.32,640.03 60.39,636.19 66.29,628.78 72.2,621.35 78.1,613.89 84.01,606.4 89.91,598.78 95.82,591.01 101.72,583.23 107.63,575.56 113.53,568.14 119.44,561.09 125.34,554.32 131.25,547.72 137.15,541.28 143.06,534.97 148.96,528.78 154.87,522.66 160.77,516.62 166.68,510.61 172.58,504.63 178.49,498.64 184.39,492.63 190.3,486.62 196.2,480.64 202.11,474.69 208.01,468.77 213.92,462.89 219.82,457.05 225.73,451.26 231.63,445.52 237.54,439.84 243.44,434.21 249.35,428.65 255.25,423.25 261.16,417.95 267.06,412.59 272.97,407.16 278.87,401.72 284.78,396.24 289.5,391.84" fill="none" stroke="#FF1818" stroke-width="1.15"/>
<circle cx="57.32" cy="640.03" r="1.99" fill="#FF0000"/>
<circle cx="118.25" cy="562.47" r="1.99" fill="#FF0000"/>
<circle cx="183.21" cy="493.83" r="1.99" fill="#FF0000"/>
<circle cx="248.64" cy="429.32" r="1.99" fill="#FF0000"/>
<polyline points="54.48,644.86 57.32,640.07 60.39,636.24 66.29,628.85 72.2,621.44 78.1,614 84.01,606.54 89.91,598.94 95.82,591.19 101.72,583.44 107.63,575.79 113.53,568.39 119.44,561.37 125.34,554.61 131.25,548.03 137.15,541.61 143.06,535.32 148.96,529.14 154.87,523.05 160.77,517.02 166.68,511.04 172.58,505.07 178.49,499.1 184.39,493.11 190.3,487.12 196.2,481.15 202.11,475.22 208.01,469.32 213.92,463.46 219.82,457.64 225.73,451.86 231.63,446.14 237.54,440.47 243.44,434.87 249.35,429.32 255.25,423.93 261.16,418.65 267.06,413.3 272.97,407.9 278.87,402.46 284.78,397.01 289.5,392.62" fill="none" stroke="#1818FF" stroke-width="1.15"/>
<polygon points="57.32,637.79 59.5,641.59 55.13,641.59" fill="#0000FF"/>
<polygon points="118.25,560.46 120.44,564.26 116.07,564.26" fill="#0000FF"/>
<polygon points="183.21,492.03 185.39,495.83 181.02,495.83" fill="#0000FF"/>
<polygon points="248.64,427.7 250.82,431.5 246.45,431.5" fill="#0000FF"/>
<polyline points="54.48,644.82 57.32,640 60.39,636.14 66.29,628.71 72.2,621.26 78.1,613.78 84.01,606.26 89.91,598.62 95.82,590.83 101.72,583.03 107.63,575.34 113.53,567.89 119.44,560.82 125.34,554.03 131.25,547.41 137.15,540.95 143.06,534.62 148.96,528.41 154.87,522.28 160.77,516.21 166.68,510.19 172.58,504.19 178.49,498.18 184.39,492.15 190.3,486.13 196.2,480.13 202.11,474.16 208.01,468.22 213.92,462.32 219.82,456.47 225.73,450.66 231.63,444.91 237.54,439.2 243.44,433.56 249.35,427.99 255.25,422.57 261.16,417.25 267.06,411.87 272.97,406.43 278.87,400.97 284.78,395.48 289.5,391.06" fill="none" stroke="#FF20FF" stroke-width="1.15"/>
<polygon points="57.32,642.28 59.5,638.48 55.13,638.48" fill="#FF00FF"/>
<polygon points="118.25,564.48 120.44,560.68 116.07,560.68" fill="#FF00FF"/>
<polygon points="183.21,495.64 185.39,491.84 181.02,491.84" fill="#FF00FF"/>
<polygon points="248.64,430.93 250.82,427.13 246.45,427.13" fill="#FF00FF"/>
<polyline points="54.48,644.85 57.32,640.06 60.39,636.22 66.29,628.83 72.2,621.41 78.1,613.96 84.01,606.49 89.91,598.88 95.82,591.13 101.72,583.37 107.63,575.72 113.53,568.31 119.44,561.27 125.34,554.51 131.25,547.93 137.15,541.5 143.06,535.21 148.96,529.02 154.87,522.92 160.77,516.89 166.68,510.9 172.58,504.92 178.49,498.95 184.39,492.95 190.3,486.95 196.2,480.98 202.11,475.04 208.01,469.13 213.92,463.27 219.82,457.44 225.73,451.66 231.63,445.94 237.54,440.26 243.44,434.65 249.35,429.1 255.25,423.71 261.16,418.41 267.06,413.06 272.97,407.65 278.87,402.21 284.78,396.75 289.5,392.36" fill="none" stroke="#108010" stroke-width="1.15"/>
<polygon points="57.32,637.59 59.41,640.06 57.32,642.53 55.23,640.06" fill="#008000"/>
<polygon points="118.25,560.18 120.34,562.65 118.25,565.12 116.16,562.65" fill="#008000"/>
<polygon points="183.21,491.68 185.3,494.15 183.21,496.62 181.12,494.15" fill="#008000"/>
<polygon points="248.64,427.29 250.73,429.76 248.64,432.23 246.55,429.76" fill="#008000"/>
<polyline points="54.48,644.86 57.32,640.07 60.39,636.24 66.29,628.85 72.2,621.44 78.1,614 84.01,606.54 89.91,598.94 95.82,591.19 101.72,583.44 107.63,575.79 113.53,568.39 119.44,561.37 125.34,554.61 131.25,548.03 137.15,541.61 143.06,535.32 148.96,529.14 154.87,523.05 160.77,517.02 166.68,511.04 172.58,505.07 178.49,499.1 184.39,493.11 190.3,487.12 196.2,481.15 202.11,475.22 208.01,469.32 213.92,463.46 219.82,457.64 225.73,451.86 231.63,446.14 237.54,440.47 243.44,434.87 249.35,429.32 255.25,423.93 261.16,418.65 267.06,413.3 272.97,407.9 278.87,402.46 284.78,397.01 289.5,392.62" fill="none" stroke="#101088" stroke-width="1.15"/>
<polygon points="55.04,640.07 58.84,637.88 58.84,642.25" fill="#000080"/>
<polygon points="115.97,562.74 119.77,560.55 119.77,564.92" fill="#000080"/>
<polygon points="180.93,494.31 184.73,492.12 184.73,496.49" fill="#000080"/>
<polygon points="246.36,429.98 250.16,427.8 250.16,432.17" fill="#000080"/>
<polyline points="54.48,644.85 57.32,640.06 60.39,636.22 66.29,628.83 72.2,621.41 78.1,613.96 84.01,606.49 89.91,598.88 95.82,591.13 101.72,583.37 107.63,575.72 113.53,568.31 119.44,561.27 125.34,554.51 131.25,547.93 137.15,541.5 143.06,535.21 148.96,529.02 154.87,522.92 160.77,516.89 166.68,510.9 172.58,504.92 178.49,498.95 184.39,492.95 190.3,486.95 196.2,480.98 202.11,475.04 208.01,469.13 213.92,463.27 219.82,457.44 225.73,451.66 231.63,445.94 237.54,440.26 243.44,434.65 249.35,429.1 255.25,423.71 261.16,418.41 267.06,413.06 272.97,407.65 278.87,402.21 284.78,396.75 289.5,392.36" fill="none" stroke="#8828F8" stroke-width="1.15"/>
<polygon points="59.6,640.06 55.8,637.87 55.8,642.24" fill="#8000FF"/>
<polygon points="120.53,562.65 116.73,560.47 116.73,564.84" fill="#8000FF"/>
<polygon points="185.49,494.15 181.69,491.97 181.69,496.34" fill="#8000FF"/>
<polygon points="250.92,429.76 247.12,427.58 247.12,431.95" fill="#8000FF"/>
<polyline points="54.48,644.82 57.32,640 60.39,636.14 66.29,628.71 72.2,621.26 78.1,613.78 84.01,606.26 89.91,598.62 95.82,590.83 101.72,583.03 107.63,575.34 113.53,567.89 119.44,560.82 125.34,554.03 131.25,547.41 137.15,540.95 143.06,534.62 148.96,528.41 154.87,522.28 160.77,516.21 166.68,510.19 172.58,504.19 178.49,498.18 184.39,492.15 190.3,486.13 196.2,480.13 202.11,474.16 208.01,468.22 213.92,462.32 219.82,456.47 225.73,450.66 231.63,444.91 237.54,439.2 243.44,433.56 249.35,427.99 255.25,422.57 261.16,417.25 267.06,411.87 272.97,406.43 278.87,400.97 284.78,395.48 289.5,391.06" fill="none" stroke="#9830A8" stroke-width="1.15"/>
<circle cx="57.32" cy="640" r="1.99" fill="#800080"/>
<circle cx="118.25" cy="562.2" r="1.99" fill="#800080"/>
<circle cx="183.21" cy="493.36" r="1.99" fill="#800080"/>
<circle cx="248.64" cy="428.65" r="1.99" fill="#800080"/>
<polyline points="54.48,644.82 57.32,640 60.39,636.14 66.29,628.71 72.2,621.26 78.1,613.78 84.01,606.26 89.91,598.62 95.82,590.83 101.72,583.03 107.63,575.34 113.53,567.89 119.44,560.82 125.34,554 131.25,547.36 137.15,540.87 143.06,534.51 148.96,528.25 154.87,522.09 160.77,515.98 166.68,509.91 172.58,503.87 178.49,497.81 184.39,491.73 190.3,485.65 196.2,479.59 202.11,473.56 208.01,467.56 213.92,461.59 219.82,455.67 225.73,449.79 231.63,443.96 237.54,438.18 243.44,432.46 249.35,426.8 255.25,421.3 261.16,415.89 267.06,410.44 272.97,404.97 278.87,399.47 284.78,393.95 289.5,389.51" fill="none" stroke="#A83040" stroke-width="1.15"/>
<polygon points="57.32,637.53 57.93,639.15 59.66,639.23 58.31,640.32 58.77,642 57.32,641.04 55.86,642 56.32,640.32 54.97,639.23 56.7,639.15" fill="#A01818"/>
<polygon points="118.25,559.73 118.87,561.36 120.6,561.44 119.25,562.53 119.71,564.2 118.25,563.25 116.8,564.2 117.26,562.53 115.91,561.44 117.64,561.36" fill="#A01818"/>
<polygon points="183.21,490.48 183.82,492.1 185.56,492.18 184.2,493.27 184.66,494.94 183.21,493.99 181.76,494.94 182.22,493.27 180.86,492.18 182.6,492.1" fill="#A01818"/>
<polygon points="248.64,425 249.25,426.63 250.99,426.71 249.63,427.8 250.09,429.47 248.64,428.52 247.19,429.47 247.64,427.8 246.29,426.71 248.02,426.63" fill="#A01818"/>
<polyline points="54.48,645.09 57.32,640.46 60.39,636.76 66.29,629.63 72.2,622.47 78.1,615.28 84.01,608.07 89.91,600.73 95.82,593.25 101.72,585.76 107.63,578.38 113.53,571.23 119.44,564.39 125.34,557.62 131.25,550.98 137.15,544.46 143.06,538.04 148.96,531.69 154.87,525.4 160.77,519.14 166.68,512.89 172.58,506.62 178.49,500.33 184.39,494.02 190.3,487.85 196.2,481.69 202.11,475.55 208.01,469.43 213.92,463.33 219.82,457.25 225.73,451.21 231.63,445.21 237.54,439.24 243.44,433.32 249.35,427.45 255.25,421.73 261.16,416.09 267.06,410.44 272.97,404.97 278.87,399.47 284.78,393.95 289.5,389.51" fill="none" stroke="#989826" stroke-width="1.15"/>
<circle cx="57.32" cy="640.46" r="1.99" fill="#808000"/>
<circle cx="118.25" cy="565.77" r="1.99" fill="#808000"/>
<circle cx="183.21" cy="495.25" r="1.99" fill="#808000"/>
<circle cx="248.64" cy="428.15" r="1.99" fill="#808000"/>
<g stroke="#111" stroke-width="1.3"><line x1="53.3" y1="35.2" x2="53.3" y2="652.3"/><line x1="52.7" y1="651.7" x2="290.1" y2="651.7"/><line x1="48.1" y1="651.7" x2="53.3" y2="651.7"/><line x1="48.1" y1="583.2" x2="53.3" y2="583.2"/><line x1="48.1" y1="514.7" x2="53.3" y2="514.7"/><line x1="48.1" y1="446.2" x2="53.3" y2="446.2"/><line x1="48.1" y1="377.7" x2="53.3" y2="377.7"/><line x1="48.1" y1="309.2" x2="53.3" y2="309.2"/><line x1="48.1" y1="240.7" x2="53.3" y2="240.7"/><line x1="48.1" y1="172.2" x2="53.3" y2="172.2"/><line x1="48.1" y1="103.7" x2="53.3" y2="103.7"/><line x1="48.1" y1="35.2" x2="53.3" y2="35.2"/><line x1="50.7" y1="617.45" x2="53.3" y2="617.45"/><line x1="50.7" y1="548.95" x2="53.3" y2="548.95"/><line x1="50.7" y1="480.45" x2="53.3" y2="480.45"/><line x1="50.7" y1="411.95" x2="53.3" y2="411.95"/><line x1="50.7" y1="343.45" x2="53.3" y2="343.45"/><line x1="50.7" y1="274.95" x2="53.3" y2="274.95"/><line x1="50.7" y1="206.45" x2="53.3" y2="206.45"/><line x1="50.7" y1="137.95" x2="53.3" y2="137.95"/><line x1="50.7" y1="69.45" x2="53.3" y2="69.45"/><line x1="53.3" y1="651.7" x2="53.3" y2="657.1"/><line x1="76.92" y1="651.7" x2="76.92" y2="657.1"/><line x1="100.54" y1="651.7" x2="100.54" y2="657.1"/><line x1="124.16" y1="651.7" x2="124.16" y2="657.1"/><line x1="147.78" y1="651.7" x2="147.78" y2="657.1"/><line x1="171.4" y1="651.7" x2="171.4" y2="657.1"/><line x1="195.02" y1="651.7" x2="195.02" y2="657.1"/><line x1="218.64" y1="651.7" x2="218.64" y2="657.1"/><line x1="242.26" y1="651.7" x2="242.26" y2="657.1"/><line x1="265.88" y1="651.7" x2="265.88" y2="657.1"/><line x1="289.5" y1="651.7" x2="289.5" y2="657.1"/><line x1="65.11" y1="651.7" x2="65.11" y2="654.5"/><line x1="88.73" y1="651.7" x2="88.73" y2="654.5"/><line x1="112.35" y1="651.7" x2="112.35" y2="654.5"/><line x1="135.97" y1="651.7" x2="135.97" y2="654.5"/><line x1="159.59" y1="651.7" x2="159.59" y2="654.5"/><line x1="183.21" y1="651.7" x2="183.21" y2="654.5"/><line x1="206.83" y1="651.7" x2="206.83" y2="654.5"/><line x1="230.45" y1="651.7" x2="230.45" y2="654.5"/><line x1="254.07" y1="651.7" x2="254.07" y2="654.5"/><line x1="277.69" y1="651.7" x2="277.69" y2="654.5"/></g>
<g font-size="14.7" fill="#111"><text x="43.5" y="656.1" text-anchor="end">0</text><text x="43.5" y="587.6" text-anchor="end">5</text><text x="43.5" y="519.1" text-anchor="end">10</text><text x="43.5" y="450.6" text-anchor="end">15</text><text x="43.5" y="382.1" text-anchor="end">20</text><text x="43.5" y="313.6" text-anchor="end">25</text><text x="43.5" y="245.1" text-anchor="end">30</text><text x="43.5" y="176.6" text-anchor="end">35</text><text x="43.5" y="108.1" text-anchor="end">40</text><text x="43.5" y="39.6" text-anchor="end">45</text><text x="53.3" y="673.4" text-anchor="middle">0</text><text x="76.92" y="673.4" text-anchor="middle">1</text><text x="100.54" y="673.4" text-anchor="middle">2</text><text x="124.16" y="673.4" text-anchor="middle">3</text><text x="147.78" y="673.4" text-anchor="middle">4</text><text x="171.4" y="673.4" text-anchor="middle">5</text><text x="195.02" y="673.4" text-anchor="middle">6</text><text x="218.64" y="673.4" text-anchor="middle">7</text><text x="242.26" y="673.4" text-anchor="middle">8</text><text x="265.88" y="673.4" text-anchor="middle">9</text><text x="289.5" y="673.4" text-anchor="middle">10</text></g>
<text transform="translate(19.6,492) rotate(-90)" font-size="18.8" font-weight="bold" fill="#111">Displacement of the bar top <tspan font-style="italic">w</tspan>(<tspan font-style="italic">L</tspan>)/cm</text>
<text x="171.3" y="721.8" font-size="19" font-weight="bold" text-anchor="middle" fill="#111">Time t/year</text>
<text x="149.3" y="780.8" font-size="12" text-anchor="middle" fill="#222">(a)</text>
<text x="428.8" y="780.6" font-size="11.5" text-anchor="middle" fill="#222">(<tspan font-weight="bold">b</tspan>)</text>
<rect x="275.1" y="83" width="21.7" height="95.5" fill="none" stroke="#000" stroke-width="1.8" stroke-dasharray="1.6 1.3"/>
<rect x="274.4" y="243.1" width="21.9" height="36.5" fill="none" stroke="#000" stroke-width="1.8" stroke-dasharray="1.6 1.3"/>
<rect x="273.8" y="333.1" width="21.8" height="13.8" fill="none" stroke="#000" stroke-width="1.8" stroke-dasharray="1.6 1.3"/>
<rect x="273.5" y="386.9" width="22.4" height="9.5" fill="none" stroke="#000" stroke-width="1.8" stroke-dasharray="1.6 1.3"/>
<polygon points="289.46,126 307.56,125.64 307.63,129.24 314.7,122.4 307.37,115.84 307.44,119.44 289.34,119.8" fill="url(#hatch)" stroke="#000" stroke-width="1.5" stroke-linejoin="miter"/>
<polygon points="290.92,265.5 309.42,265.36 309.45,268.96 316.6,262.2 309.35,255.56 309.38,259.16 290.88,259.3" fill="url(#hatch)" stroke="#000" stroke-width="1.5" stroke-linejoin="miter"/>
<polygon points="290.86,343.98 306.03,365.59 303.08,367.66 312.7,369.7 314.05,359.96 311.1,362.03 295.94,340.42" fill="#f2f2f2" stroke="#000" stroke-width="1.5" stroke-linejoin="miter"/>
<polygon points="290.42,395.72 305.48,541.56 301.9,541.93 309.3,548.4 315.22,540.55 311.64,540.92 296.58,395.08" fill="url(#hatch)" stroke="#000" stroke-width="1.5" stroke-linejoin="miter"/>
<rect x="337.5" y="7.6" width="76.7" height="77.4" fill="#fff" stroke="#aaa" stroke-width="0.8"/>
<line x1="339.1" y1="10.5" x2="353.7" y2="10.5" stroke="#000000" stroke-width="0.9"/>
<rect x="345.6" y="9.7" width="1.6" height="1.6" fill="#000000"/>
<text transform="translate(355.2,12.9) scale(0.92,1)" font-size="6.85" fill="#000">Length of bar L=50m</text>
<line x1="339.1" y1="18.35" x2="353.7" y2="18.35" stroke="#FF2020" stroke-width="0.9"/>
<circle cx="346.4" cy="18.35" r="0.84" fill="#FF0000"/>
<text transform="translate(355.2,20.75) scale(0.92,1)" font-size="6.85" fill="#000">Length of bar L=60m</text>
<line x1="339.1" y1="26.2" x2="353.7" y2="26.2" stroke="#2020FF" stroke-width="0.9"/>
<polygon points="346.4,25.24 347.32,26.84 345.48,26.84" fill="#0000FF"/>
<text transform="translate(355.2,28.6) scale(0.92,1)" font-size="6.85" fill="#000">Length of bar L=70m</text>
<line x1="339.1" y1="34.05" x2="353.7" y2="34.05" stroke="#FF30FF" stroke-width="0.9"/>
<polygon points="346.4,35.01 347.32,33.41 345.48,33.41" fill="#FF00FF"/>
<text transform="translate(355.2,36.45) scale(0.92,1)" font-size="6.85" fill="#000">Length of bar L=80m</text>
<line x1="339.1" y1="41.9" x2="353.7" y2="41.9" stroke="#209020" stroke-width="0.9"/>
<polygon points="346.4,40.86 347.28,41.9 346.4,42.94 345.52,41.9" fill="#008000"/>
<text transform="translate(355.2,44.3) scale(0.92,1)" font-size="6.85" fill="#000">Length of bar L=90m</text>
<line x1="339.1" y1="49.75" x2="353.7" y2="49.75" stroke="#202090" stroke-width="0.9"/>
<polygon points="345.44,49.75 347.04,48.83 347.04,50.67" fill="#000080"/>
<text transform="translate(355.2,52.15) scale(0.92,1)" font-size="6.85" fill="#000">Length of bar L=100m</text>
<line x1="339.1" y1="57.6" x2="353.7" y2="57.6" stroke="#9030FF" stroke-width="0.9"/>
<polygon points="347.36,57.6 345.76,56.68 345.76,58.52" fill="#8000FF"/>
<text transform="translate(355.2,60) scale(0.92,1)" font-size="6.85" fill="#000">Length of bar L=110m</text>
<line x1="339.1" y1="65.45" x2="353.7" y2="65.45" stroke="#B040B0" stroke-width="0.9"/>
<circle cx="346.4" cy="65.45" r="0.84" fill="#800080"/>
<text transform="translate(355.2,67.85) scale(0.92,1)" font-size="6.85" fill="#000">Length of bar L=120m</text>
<line x1="339.1" y1="73.3" x2="353.7" y2="73.3" stroke="#B84444" stroke-width="0.9"/>
<polygon points="346.4,72.26 346.66,72.94 347.39,72.98 346.82,73.44 347.01,74.14 346.4,73.74 345.79,74.14 345.98,73.44 345.41,72.98 346.14,72.94" fill="#A01818"/>
<text transform="translate(355.2,75.7) scale(0.92,1)" font-size="6.85" fill="#000">Length of bar L=130m</text>
<line x1="339.1" y1="81.15" x2="353.7" y2="81.15" stroke="#A0A020" stroke-width="0.9"/>
<circle cx="346.4" cy="81.15" r="0.84" fill="#808000"/>
<text transform="translate(355.2,83.55) scale(0.92,1)" font-size="6.85" fill="#000">Length of bar L=140m</text>
<polyline points="335.4,86.56 356.02,82.06 376.64,77.51 397.26,72.94 417.88,68.33 438.5,63.68 459.12,58.99 479.74,54.28 500.36,49.52 520.98,44.74 541.6,39.91" fill="none" stroke="#000000" stroke-width="1.1"/>
<polyline points="335.4,86.39 356.02,81.89 376.64,77.36 397.26,72.79 417.88,68.19 438.5,63.55 459.12,58.88 479.74,54.17 500.36,49.42 520.98,44.64 541.6,39.83" fill="none" stroke="#FF2020" stroke-width="1.1"/>
<polyline points="335.4,86.74 356.02,82.23 376.64,77.69 397.26,73.11 417.88,68.5 438.5,63.85 459.12,59.17 479.74,54.45 500.36,49.69 520.98,44.91 541.6,40.08" fill="none" stroke="#2020FF" stroke-width="1.1"/>
<polyline points="335.4,85.88 356.02,81.4 376.64,76.88 397.26,72.33 417.88,67.74 438.5,63.12 459.12,58.46 479.74,53.77 500.36,49.04 520.98,44.28 541.6,39.48" fill="none" stroke="#FF30FF" stroke-width="1.1"/>
<polyline points="335.4,86.22 356.02,81.72 376.64,77.19 397.26,72.62 417.88,68.02 438.5,63.38 459.12,58.7 479.74,53.99 500.36,49.25 520.98,44.47 541.6,39.66" fill="none" stroke="#209020" stroke-width="1.1"/>
<polyline points="335.4,86.99 356.02,82.48 376.64,77.94 397.26,73.36 417.88,68.75 438.5,64.1 459.12,59.42 479.74,54.7 500.36,49.95 520.98,45.16 541.6,40.34" fill="none" stroke="#202090" stroke-width="1.1"/>
<polyline points="335.4,90.33 356.02,85.89 376.64,81.41 397.26,76.9 417.88,72.36 438.5,67.78 459.12,63.17 479.74,58.52 500.36,53.83 520.98,49.12 541.6,44.36" fill="none" stroke="#9030FF" stroke-width="1.1"/>
<polyline points="335.4,99.4 356.02,95 376.64,90.57 397.26,86.1 417.88,81.59 438.5,77.06 459.12,72.48 479.74,67.88 500.36,63.24 520.98,58.57 541.6,53.86" fill="none" stroke="#B040B0" stroke-width="1.1"/>
<polyline points="335.4,113.53 356.02,109.38 376.64,105.19 397.26,100.97 417.88,96.72 438.5,92.44 459.12,88.13 479.74,83.78 500.36,79.41 520.98,75 541.6,70.56" fill="none" stroke="#B84444" stroke-width="1.1"/>
<polyline points="335.4,132.53 356.02,128.75 376.64,124.95 397.26,121.11 417.88,117.24 438.5,113.34 459.12,109.42 479.74,105.46 500.36,101.47 520.98,97.46 541.6,93.41" fill="none" stroke="#A0A020" stroke-width="1.1"/>
<line x1="335.4" y1="6.1" x2="335.4" y2="136.8" stroke="#777" stroke-width="0.9"/><line x1="333.1" y1="134.5" x2="541.6" y2="134.5" stroke="#999" stroke-width="1.3"/><line x1="541.6" y1="134.5" x2="541.6" y2="136.8" stroke="#777" stroke-width="0.9"/><line x1="438.5" y1="134.5" x2="438.5" y2="135.8" stroke="#777" stroke-width="0.8"/><line x1="333" y1="134.5" x2="335.4" y2="134.5" stroke="#555" stroke-width="1"/><line x1="333" y1="108.82" x2="335.4" y2="108.82" stroke="#555" stroke-width="1"/><line x1="333" y1="83.14" x2="335.4" y2="83.14" stroke="#555" stroke-width="1"/><line x1="333" y1="57.46" x2="335.4" y2="57.46" stroke="#555" stroke-width="1"/><line x1="333" y1="31.78" x2="335.4" y2="31.78" stroke="#555" stroke-width="1"/><line x1="333" y1="6.1" x2="335.4" y2="6.1" stroke="#555" stroke-width="1"/><line x1="334.2" y1="121.66" x2="335.4" y2="121.66" stroke="#777" stroke-width="0.8"/><line x1="334.2" y1="95.98" x2="335.4" y2="95.98" stroke="#777" stroke-width="0.8"/><line x1="334.2" y1="70.3" x2="335.4" y2="70.3" stroke="#777" stroke-width="0.8"/><line x1="334.2" y1="44.62" x2="335.4" y2="44.62" stroke="#777" stroke-width="0.8"/><line x1="334.2" y1="18.94" x2="335.4" y2="18.94" stroke="#777" stroke-width="0.8"/>
<g font-size="6.7" fill="#3a3a3a"><text x="330.9" y="136.4" text-anchor="end">30</text><text x="330.9" y="110.72" text-anchor="end">33</text><text x="330.9" y="85.04" text-anchor="end">36</text><text x="330.9" y="59.36" text-anchor="end">39</text><text x="330.9" y="33.68" text-anchor="end">42</text><text x="330.9" y="8" text-anchor="end">45</text><text x="335.6" y="143.7" text-anchor="middle">9</text><text x="541.8" y="143.7" text-anchor="middle">10</text></g>
<text transform="translate(321.4,70.6) rotate(-90)" font-size="8.4" font-weight="bold" text-anchor="middle" fill="#111">Displacement of the bar top <tspan font-style="italic">w</tspan>(<tspan font-style="italic">L</tspan>)/cm</text>
<text x="438.6" y="156.9" font-size="8.5" font-weight="bold" text-anchor="middle" fill="#111">Time t/year</text>
<text x="428.8" y="174.9" font-size="12" text-anchor="middle" fill="#222">I. P=10000kN</text>
<rect x="465.1" y="230.9" width="76.4" height="78.6" fill="#fff" stroke="#aaa" stroke-width="0.8"/>
<line x1="466.7" y1="235.5" x2="481.3" y2="235.5" stroke="#000000" stroke-width="0.9"/>
<rect x="473.2" y="234.7" width="1.6" height="1.6" fill="#000000"/>
<text transform="translate(482.8,237.9) scale(0.92,1)" font-size="6.85" fill="#000">Length of bar L=50m</text>
<line x1="466.7" y1="243.28" x2="481.3" y2="243.28" stroke="#FF2020" stroke-width="0.9"/>
<circle cx="474" cy="243.28" r="0.84" fill="#FF0000"/>
<text transform="translate(482.8,245.68) scale(0.92,1)" font-size="6.85" fill="#000">Length of bar L=60m</text>
<line x1="466.7" y1="251.06" x2="481.3" y2="251.06" stroke="#2020FF" stroke-width="0.9"/>
<polygon points="474,250.1 474.92,251.7 473.08,251.7" fill="#0000FF"/>
<text transform="translate(482.8,253.46) scale(0.92,1)" font-size="6.85" fill="#000">Length of bar L=70m</text>
<line x1="466.7" y1="258.84" x2="481.3" y2="258.84" stroke="#FF30FF" stroke-width="0.9"/>
<polygon points="474,259.8 474.92,258.2 473.08,258.2" fill="#FF00FF"/>
<text transform="translate(482.8,261.24) scale(0.92,1)" font-size="6.85" fill="#000">Length of bar L=80m</text>
<line x1="466.7" y1="266.62" x2="481.3" y2="266.62" stroke="#209020" stroke-width="0.9"/>
<polygon points="474,265.58 474.88,266.62 474,267.66 473.12,266.62" fill="#008000"/>
<text transform="translate(482.8,269.02) scale(0.92,1)" font-size="6.85" fill="#000">Length of bar L=90m</text>
<line x1="466.7" y1="274.4" x2="481.3" y2="274.4" stroke="#202090" stroke-width="0.9"/>
<polygon points="473.04,274.4 474.64,273.48 474.64,275.32" fill="#000080"/>
<text transform="translate(482.8,276.8) scale(0.92,1)" font-size="6.85" fill="#000">Length of bar L=100m</text>
<line x1="466.7" y1="282.18" x2="481.3" y2="282.18" stroke="#9030FF" stroke-width="0.9"/>
<polygon points="474.96,282.18 473.36,281.26 473.36,283.1" fill="#8000FF"/>
<text transform="translate(482.8,284.58) scale(0.92,1)" font-size="6.85" fill="#000">Length of bar L=110m</text>
<line x1="466.7" y1="289.96" x2="481.3" y2="289.96" stroke="#B040B0" stroke-width="0.9"/>
<circle cx="474" cy="289.96" r="0.84" fill="#800080"/>
<text transform="translate(482.8,292.36) scale(0.92,1)" font-size="6.85" fill="#000">Length of bar L=120m</text>
<line x1="466.7" y1="297.74" x2="481.3" y2="297.74" stroke="#B84444" stroke-width="0.9"/>
<polygon points="474,296.7 474.26,297.38 474.99,297.42 474.42,297.88 474.61,298.58 474,298.18 473.39,298.58 473.58,297.88 473.01,297.42 473.74,297.38" fill="#A01818"/>
<text transform="translate(482.8,300.14) scale(0.92,1)" font-size="6.85" fill="#000">Length of bar L=130m</text>
<line x1="466.7" y1="305.52" x2="481.3" y2="305.52" stroke="#A0A020" stroke-width="0.9"/>
<circle cx="474" cy="305.52" r="0.84" fill="#808000"/>
<text transform="translate(482.8,307.92) scale(0.92,1)" font-size="6.85" fill="#000">Length of bar L=140m</text>
<polyline points="335.4,232 356.02,227.9 376.64,223.79 397.26,219.66 417.88,215.53 438.5,211.39 459.12,207.23 479.74,203.06 500.36,198.88 520.98,194.7 541.6,190.5" fill="none" stroke="#000000" stroke-width="1.1"/>
<polyline points="335.4,231.74 356.02,227.66 376.64,223.56 397.26,219.45 417.88,215.32 438.5,211.19 459.12,207.05 479.74,202.9 500.36,198.73 520.98,194.55 541.6,190.37" fill="none" stroke="#FF2020" stroke-width="1.1"/>
<polyline points="335.4,231.87 356.02,227.77 376.64,223.66 397.26,219.54 417.88,215.4 438.5,211.26 459.12,207.1 479.74,202.93 500.36,198.76 520.98,194.57 541.6,190.37" fill="none" stroke="#2020FF" stroke-width="1.1"/>
<polyline points="335.4,231.49 356.02,227.4 376.64,223.3 397.26,219.19 417.88,215.07 438.5,210.94 459.12,206.79 479.74,202.64 500.36,198.47 520.98,194.3 541.6,190.11" fill="none" stroke="#FF30FF" stroke-width="1.1"/>
<polyline points="335.4,232.13 356.02,228.03 376.64,223.92 397.26,219.79 417.88,215.66 438.5,211.51 459.12,207.36 479.74,203.19 500.36,199.01 520.98,194.82 541.6,190.62" fill="none" stroke="#209020" stroke-width="1.1"/>
<polyline points="335.4,232.13 356.02,228.03 376.64,223.92 397.26,219.79 417.88,215.66 438.5,211.51 459.12,207.36 479.74,203.19 500.36,199.01 520.98,194.82 541.6,190.62" fill="none" stroke="#202090" stroke-width="1.1"/>
<polyline points="335.4,231.87 356.02,227.76 376.64,223.63 397.26,219.5 417.88,215.35 438.5,211.19 459.12,207.02 479.74,202.84 500.36,198.65 520.98,194.45 541.6,190.24" fill="none" stroke="#9030FF" stroke-width="1.1"/>
<polyline points="335.4,234.31 356.02,230.24 376.64,226.15 397.26,222.05 417.88,217.95 438.5,213.83 459.12,209.7 479.74,205.55 500.36,201.4 520.98,197.24 541.6,193.07" fill="none" stroke="#B040B0" stroke-width="1.1"/>
<polyline points="335.4,241.38 356.02,237.32 376.64,233.24 397.26,229.16 417.88,225.06 438.5,220.95 459.12,216.84 479.74,212.71 500.36,208.57 520.98,204.42 541.6,200.26" fill="none" stroke="#B84444" stroke-width="1.1"/>
<polyline points="335.4,253.46 356.02,249.48 376.64,245.5 397.26,241.5 417.88,237.5 438.5,233.48 459.12,229.45 479.74,225.41 500.36,221.37 520.98,217.31 541.6,213.24" fill="none" stroke="#A0A020" stroke-width="1.1"/>
<line x1="335.4" y1="183.3" x2="335.4" y2="314.1" stroke="#777" stroke-width="0.9"/><line x1="333.1" y1="311.8" x2="541.6" y2="311.8" stroke="#999" stroke-width="1.3"/><line x1="541.6" y1="311.8" x2="541.6" y2="314.1" stroke="#777" stroke-width="0.9"/><line x1="438.5" y1="311.8" x2="438.5" y2="313.1" stroke="#777" stroke-width="0.8"/><line x1="333" y1="311.8" x2="335.4" y2="311.8" stroke="#555" stroke-width="1"/><line x1="333" y1="286.1" x2="335.4" y2="286.1" stroke="#555" stroke-width="1"/><line x1="333" y1="260.4" x2="335.4" y2="260.4" stroke="#555" stroke-width="1"/><line x1="333" y1="234.7" x2="335.4" y2="234.7" stroke="#555" stroke-width="1"/><line x1="333" y1="209" x2="335.4" y2="209" stroke="#555" stroke-width="1"/><line x1="333" y1="183.3" x2="335.4" y2="183.3" stroke="#555" stroke-width="1"/><line x1="334.2" y1="298.95" x2="335.4" y2="298.95" stroke="#777" stroke-width="0.8"/><line x1="334.2" y1="273.25" x2="335.4" y2="273.25" stroke="#777" stroke-width="0.8"/><line x1="334.2" y1="247.55" x2="335.4" y2="247.55" stroke="#777" stroke-width="0.8"/><line x1="334.2" y1="221.85" x2="335.4" y2="221.85" stroke="#777" stroke-width="0.8"/><line x1="334.2" y1="196.15" x2="335.4" y2="196.15" stroke="#777" stroke-width="0.8"/>
<g font-size="6.7" fill="#3a3a3a"><text x="330.9" y="313.7" text-anchor="end">20</text><text x="330.9" y="288" text-anchor="end">22</text><text x="330.9" y="262.3" text-anchor="end">24</text><text x="330.9" y="236.6" text-anchor="end">26</text><text x="330.9" y="210.9" text-anchor="end">28</text><text x="330.9" y="185.2" text-anchor="end">30</text><text x="335.6" y="321" text-anchor="middle">9</text><text x="541.8" y="321" text-anchor="middle">10</text></g>
<text transform="translate(321.4,247.85) rotate(-90)" font-size="8.4" font-weight="bold" text-anchor="middle" fill="#111">Displacement of the bar top <tspan font-style="italic">w</tspan>(<tspan font-style="italic">L</tspan>)/cm</text>
<text x="438.6" y="333.7" font-size="8.5" font-weight="bold" text-anchor="middle" fill="#111">Time t/year</text>
<text x="428.8" y="350.9" font-size="12" text-anchor="middle" fill="#222">II. P=7500kN</text>
<rect x="337.5" y="359.2" width="76" height="79.2" fill="#fff" stroke="#aaa" stroke-width="0.8"/>
<line x1="339.1" y1="364.6" x2="353.7" y2="364.6" stroke="#000000" stroke-width="0.9"/>
<rect x="345.6" y="363.8" width="1.6" height="1.6" fill="#000000"/>
<text transform="translate(355.2,367) scale(0.92,1)" font-size="6.85" fill="#000">Length of bar L=50m</text>
<line x1="339.1" y1="372.3" x2="353.7" y2="372.3" stroke="#FF2020" stroke-width="0.9"/>
<circle cx="346.4" cy="372.3" r="0.84" fill="#FF0000"/>
<text transform="translate(355.2,374.7) scale(0.92,1)" font-size="6.85" fill="#000">Length of bar L=60m</text>
<line x1="339.1" y1="380" x2="353.7" y2="380" stroke="#2020FF" stroke-width="0.9"/>
<polygon points="346.4,379.04 347.32,380.64 345.48,380.64" fill="#0000FF"/>
<text transform="translate(355.2,382.4) scale(0.92,1)" font-size="6.85" fill="#000">Length of bar L=70m</text>
<line x1="339.1" y1="387.7" x2="353.7" y2="387.7" stroke="#FF30FF" stroke-width="0.9"/>
<polygon points="346.4,388.66 347.32,387.06 345.48,387.06" fill="#FF00FF"/>
<text transform="translate(355.2,390.1) scale(0.92,1)" font-size="6.85" fill="#000">Length of bar L=80m</text>
<line x1="339.1" y1="395.4" x2="353.7" y2="395.4" stroke="#209020" stroke-width="0.9"/>
<polygon points="346.4,394.36 347.28,395.4 346.4,396.44 345.52,395.4" fill="#008000"/>
<text transform="translate(355.2,397.8) scale(0.92,1)" font-size="6.85" fill="#000">Length of bar L=90m</text>
<line x1="339.1" y1="403.1" x2="353.7" y2="403.1" stroke="#202090" stroke-width="0.9"/>
<polygon points="345.44,403.1 347.04,402.18 347.04,404.02" fill="#000080"/>
<text transform="translate(355.2,405.5) scale(0.92,1)" font-size="6.85" fill="#000">Length of bar L=100m</text>
<line x1="339.1" y1="410.8" x2="353.7" y2="410.8" stroke="#9030FF" stroke-width="0.9"/>
<polygon points="347.36,410.8 345.76,409.88 345.76,411.72" fill="#8000FF"/>
<text transform="translate(355.2,413.2) scale(0.92,1)" font-size="6.85" fill="#000">Length of bar L=110m</text>
<line x1="339.1" y1="418.5" x2="353.7" y2="418.5" stroke="#B040B0" stroke-width="0.9"/>
<circle cx="346.4" cy="418.5" r="0.84" fill="#800080"/>
<text transform="translate(355.2,420.9) scale(0.92,1)" font-size="6.85" fill="#000">Length of bar L=120m</text>
<line x1="339.1" y1="426.2" x2="353.7" y2="426.2" stroke="#B84444" stroke-width="0.9"/>
<polygon points="346.4,425.16 346.66,425.84 347.39,425.88 346.82,426.34 347.01,427.04 346.4,426.64 345.79,427.04 345.98,426.34 345.41,425.88 346.14,425.84" fill="#A01818"/>
<text transform="translate(355.2,428.6) scale(0.92,1)" font-size="6.85" fill="#000">Length of bar L=130m</text>
<line x1="339.1" y1="433.9" x2="353.7" y2="433.9" stroke="#A0A020" stroke-width="0.9"/>
<circle cx="346.4" cy="433.9" r="0.84" fill="#808000"/>
<text transform="translate(355.2,436.3) scale(0.92,1)" font-size="6.85" fill="#000">Length of bar L=140m</text>
<polyline points="335.4,469.58 356.02,463.91 376.64,458.26 397.26,452.62 417.88,447.01 438.5,441.41 459.12,435.84 479.74,430.28 500.36,424.74 520.98,419.22 541.6,413.73" fill="none" stroke="#000000" stroke-width="1.1"/>
<polyline points="335.4,468.68 356.02,463.01 376.64,457.35 397.26,451.72 417.88,446.11 438.5,440.51 459.12,434.93 479.74,429.38 500.36,423.84 520.98,418.32 541.6,412.82" fill="none" stroke="#FF2020" stroke-width="1.1"/>
<polyline points="335.4,468.42 356.02,462.75 376.64,457.1 397.26,451.46 417.88,445.85 438.5,440.25 459.12,434.68 479.74,429.12 500.36,423.58 520.98,418.07 541.6,412.57" fill="none" stroke="#2020FF" stroke-width="1.1"/>
<polyline points="335.4,466.75 356.02,461.08 376.64,455.42 397.26,449.79 417.88,444.17 438.5,438.58 459.12,433 479.74,427.45 500.36,421.91 520.98,416.39 541.6,410.89" fill="none" stroke="#FF30FF" stroke-width="1.1"/>
<polyline points="335.4,468.68 356.02,463.01 376.64,457.35 397.26,451.72 417.88,446.11 438.5,440.51 459.12,434.93 479.74,429.38 500.36,423.84 520.98,418.32 541.6,412.82" fill="none" stroke="#209020" stroke-width="1.1"/>
<polyline points="335.4,468.94 356.02,463.27 376.64,457.61 397.26,451.98 417.88,446.36 438.5,440.77 459.12,435.19 479.74,429.64 500.36,424.1 520.98,418.58 541.6,413.08" fill="none" stroke="#202090" stroke-width="1.1"/>
<polyline points="335.4,467.14 356.02,461.46 376.64,455.81 397.26,450.18 417.88,444.56 438.5,438.97 459.12,433.39 479.74,427.83 500.36,422.3 520.98,416.78 541.6,411.28" fill="none" stroke="#9030FF" stroke-width="1.1"/>
<polyline points="335.4,467.65 356.02,461.98 376.64,456.32 397.26,450.69 417.88,445.08 438.5,439.48 459.12,433.9 479.74,428.35 500.36,422.81 520.98,417.29 541.6,411.79" fill="none" stroke="#B040B0" stroke-width="1.1"/>
<polyline points="335.4,468.17 356.02,462.49 376.64,456.84 397.26,451.21 417.88,445.59 438.5,440 459.12,434.42 479.74,428.86 500.36,423.33 520.98,417.81 541.6,412.31" fill="none" stroke="#B84444" stroke-width="1.1"/>
<polyline points="335.4,476.79 356.02,471.03 376.64,465.28 397.26,459.56 417.88,453.86 438.5,448.17 459.12,442.51 479.74,436.86 500.36,431.23 520.98,425.62 541.6,420.03" fill="none" stroke="#A0A020" stroke-width="1.1"/>
<line x1="335.4" y1="359.8" x2="335.4" y2="490.8" stroke="#777" stroke-width="0.9"/><line x1="333.1" y1="488.5" x2="541.6" y2="488.5" stroke="#999" stroke-width="1.3"/><line x1="541.6" y1="488.5" x2="541.6" y2="490.8" stroke="#777" stroke-width="0.9"/><line x1="438.5" y1="488.5" x2="438.5" y2="489.8" stroke="#777" stroke-width="0.8"/><line x1="333" y1="488.5" x2="335.4" y2="488.5" stroke="#555" stroke-width="1"/><line x1="333" y1="462.76" x2="335.4" y2="462.76" stroke="#555" stroke-width="1"/><line x1="333" y1="437.02" x2="335.4" y2="437.02" stroke="#555" stroke-width="1"/><line x1="333" y1="411.28" x2="335.4" y2="411.28" stroke="#555" stroke-width="1"/><line x1="333" y1="385.54" x2="335.4" y2="385.54" stroke="#555" stroke-width="1"/><line x1="333" y1="359.8" x2="335.4" y2="359.8" stroke="#555" stroke-width="1"/><line x1="334.2" y1="475.63" x2="335.4" y2="475.63" stroke="#777" stroke-width="0.8"/><line x1="334.2" y1="449.89" x2="335.4" y2="449.89" stroke="#777" stroke-width="0.8"/><line x1="334.2" y1="424.15" x2="335.4" y2="424.15" stroke="#777" stroke-width="0.8"/><line x1="334.2" y1="398.41" x2="335.4" y2="398.41" stroke="#777" stroke-width="0.8"/><line x1="334.2" y1="372.67" x2="335.4" y2="372.67" stroke="#777" stroke-width="0.8"/>
<g font-size="6.7" fill="#3a3a3a"><text x="330.9" y="490.4" text-anchor="end">20</text><text x="330.9" y="464.66" text-anchor="end">21</text><text x="330.9" y="438.92" text-anchor="end">22</text><text x="330.9" y="413.18" text-anchor="end">23</text><text x="330.9" y="387.44" text-anchor="end">24</text><text x="330.9" y="361.7" text-anchor="end">25</text><text x="335.6" y="497.7" text-anchor="middle">9</text><text x="541.8" y="497.7" text-anchor="middle">10</text></g>
<text transform="translate(321.4,424.45) rotate(-90)" font-size="8.4" font-weight="bold" text-anchor="middle" fill="#111">Displacement of the bar top <tspan font-style="italic">w</tspan>(<tspan font-style="italic">L</tspan>)/cm</text>
<text x="438.6" y="511" font-size="8.5" font-weight="bold" text-anchor="middle" fill="#111">Time t/year</text>
<text x="428.8" y="528" font-size="12" text-anchor="middle" fill="#222">III. P=5000kN</text>
<rect x="465.5" y="607.3" width="76" height="77.7" fill="#fff" stroke="#aaa" stroke-width="0.8"/>
<line x1="467.1" y1="611.3" x2="481.7" y2="611.3" stroke="#000000" stroke-width="0.9"/>
<rect x="473.6" y="610.5" width="1.6" height="1.6" fill="#000000"/>
<text transform="translate(483.2,613.7) scale(0.92,1)" font-size="6.85" fill="#000">Length of bar L=50m</text>
<line x1="467.1" y1="619.08" x2="481.7" y2="619.08" stroke="#FF2020" stroke-width="0.9"/>
<circle cx="474.4" cy="619.08" r="0.84" fill="#FF0000"/>
<text transform="translate(483.2,621.48) scale(0.92,1)" font-size="6.85" fill="#000">Length of bar L=60m</text>
<line x1="467.1" y1="626.86" x2="481.7" y2="626.86" stroke="#2020FF" stroke-width="0.9"/>
<polygon points="474.4,625.9 475.32,627.5 473.48,627.5" fill="#0000FF"/>
<text transform="translate(483.2,629.26) scale(0.92,1)" font-size="6.85" fill="#000">Length of bar L=70m</text>
<line x1="467.1" y1="634.64" x2="481.7" y2="634.64" stroke="#FF30FF" stroke-width="0.9"/>
<polygon points="474.4,635.6 475.32,634 473.48,634" fill="#FF00FF"/>
<text transform="translate(483.2,637.04) scale(0.92,1)" font-size="6.85" fill="#000">Length of bar L=80m</text>
<line x1="467.1" y1="642.42" x2="481.7" y2="642.42" stroke="#209020" stroke-width="0.9"/>
<polygon points="474.4,641.38 475.28,642.42 474.4,643.46 473.52,642.42" fill="#008000"/>
<text transform="translate(483.2,644.82) scale(0.92,1)" font-size="6.85" fill="#000">Length of bar L=90m</text>
<line x1="467.1" y1="650.2" x2="481.7" y2="650.2" stroke="#202090" stroke-width="0.9"/>
<polygon points="473.44,650.2 475.04,649.28 475.04,651.12" fill="#000080"/>
<text transform="translate(483.2,652.6) scale(0.92,1)" font-size="6.85" fill="#000">Length of bar L=100m</text>
<line x1="467.1" y1="657.98" x2="481.7" y2="657.98" stroke="#9030FF" stroke-width="0.9"/>
<polygon points="475.36,657.98 473.76,657.06 473.76,658.9" fill="#8000FF"/>
<text transform="translate(483.2,660.38) scale(0.92,1)" font-size="6.85" fill="#000">Length of bar L=110m</text>
<line x1="467.1" y1="665.76" x2="481.7" y2="665.76" stroke="#B040B0" stroke-width="0.9"/>
<circle cx="474.4" cy="665.76" r="0.84" fill="#800080"/>
<text transform="translate(483.2,668.16) scale(0.92,1)" font-size="6.85" fill="#000">Length of bar L=120m</text>
<line x1="467.1" y1="673.54" x2="481.7" y2="673.54" stroke="#B84444" stroke-width="0.9"/>
<polygon points="474.4,672.5 474.66,673.18 475.39,673.22 474.82,673.68 475.01,674.38 474.4,673.98 473.79,674.38 473.98,673.68 473.41,673.22 474.14,673.18" fill="#A01818"/>
<text transform="translate(483.2,675.94) scale(0.92,1)" font-size="6.85" fill="#000">Length of bar L=130m</text>
<line x1="467.1" y1="681.32" x2="481.7" y2="681.32" stroke="#A0A020" stroke-width="0.9"/>
<circle cx="474.4" cy="681.32" r="0.84" fill="#808000"/>
<text transform="translate(483.2,683.72) scale(0.92,1)" font-size="6.85" fill="#000">Length of bar L=140m</text>
<polyline points="335.4,628.5 356.02,624.46 376.64,620.42 397.26,616.37 417.88,612.31 438.5,608.24 459.12,604.17 479.74,600.09 500.36,596 520.98,591.9 541.6,587.79" fill="none" stroke="#000000" stroke-width="1.1"/>
<polyline points="335.4,627.73 356.02,623.69 376.64,619.65 397.26,615.6 417.88,611.54 438.5,607.48 459.12,603.4 479.74,599.32 500.36,595.23 520.98,591.13 541.6,587.02" fill="none" stroke="#FF2020" stroke-width="1.1"/>
<polyline points="335.4,628.75 356.02,624.72 376.64,620.68 397.26,616.63 417.88,612.57 438.5,608.5 459.12,604.43 479.74,600.34 500.36,596.25 520.98,592.15 541.6,588.05" fill="none" stroke="#2020FF" stroke-width="1.1"/>
<polyline points="335.4,625.94 356.02,621.9 376.64,617.86 397.26,613.81 417.88,609.75 438.5,605.69 459.12,601.61 479.74,597.53 500.36,593.44 520.98,589.34 541.6,585.23" fill="none" stroke="#FF30FF" stroke-width="1.1"/>
<polyline points="335.4,627.98 356.02,623.95 376.64,619.91 397.26,615.86 417.88,611.8 438.5,607.73 459.12,603.66 479.74,599.58 500.36,595.49 520.98,591.39 541.6,587.28" fill="none" stroke="#209020" stroke-width="1.1"/>
<polyline points="335.4,629.01 356.02,624.95 376.64,620.88 397.26,616.8 417.88,612.72 438.5,608.63 459.12,604.53 479.74,600.42 500.36,596.3 520.98,592.18 541.6,588.05" fill="none" stroke="#202090" stroke-width="1.1"/>
<polyline points="335.4,628.5 356.02,624.44 376.64,620.37 397.26,616.29 417.88,612.21 438.5,608.12 459.12,604.02 479.74,599.91 500.36,595.79 520.98,591.67 541.6,587.54" fill="none" stroke="#9030FF" stroke-width="1.1"/>
<polyline points="335.4,625.94 356.02,621.9 376.64,617.86 397.26,613.81 417.88,609.75 438.5,605.69 459.12,601.61 479.74,597.53 500.36,593.44 520.98,589.34 541.6,585.23" fill="none" stroke="#B040B0" stroke-width="1.1"/>
<polyline points="335.4,623.63 356.02,619.55 376.64,615.45 397.26,611.35 417.88,607.24 438.5,603.13 459.12,599 479.74,594.87 500.36,590.72 520.98,586.57 541.6,582.42" fill="none" stroke="#B84444" stroke-width="1.1"/>
<polyline points="335.4,623.89 356.02,619.8 376.64,615.71 397.26,611.61 417.88,607.5 438.5,603.38 459.12,599.26 479.74,595.12 500.36,590.98 520.98,586.83 541.6,582.67" fill="none" stroke="#A0A020" stroke-width="1.1"/>
<line x1="335.4" y1="560.4" x2="335.4" y2="690.7" stroke="#777" stroke-width="0.9"/><line x1="333.1" y1="688.4" x2="541.6" y2="688.4" stroke="#999" stroke-width="1.3"/><line x1="541.6" y1="688.4" x2="541.6" y2="690.7" stroke="#777" stroke-width="0.9"/><line x1="438.5" y1="688.4" x2="438.5" y2="689.7" stroke="#777" stroke-width="0.8"/><line x1="333" y1="688.4" x2="335.4" y2="688.4" stroke="#555" stroke-width="1"/><line x1="333" y1="662.8" x2="335.4" y2="662.8" stroke="#555" stroke-width="1"/><line x1="333" y1="637.2" x2="335.4" y2="637.2" stroke="#555" stroke-width="1"/><line x1="333" y1="611.6" x2="335.4" y2="611.6" stroke="#555" stroke-width="1"/><line x1="333" y1="586" x2="335.4" y2="586" stroke="#555" stroke-width="1"/><line x1="333" y1="560.4" x2="335.4" y2="560.4" stroke="#555" stroke-width="1"/><line x1="334.2" y1="675.6" x2="335.4" y2="675.6" stroke="#777" stroke-width="0.8"/><line x1="334.2" y1="650" x2="335.4" y2="650" stroke="#777" stroke-width="0.8"/><line x1="334.2" y1="624.4" x2="335.4" y2="624.4" stroke="#777" stroke-width="0.8"/><line x1="334.2" y1="598.8" x2="335.4" y2="598.8" stroke="#777" stroke-width="0.8"/><line x1="334.2" y1="573.2" x2="335.4" y2="573.2" stroke="#777" stroke-width="0.8"/>
<g font-size="6.7" fill="#3a3a3a"><text x="330.9" y="690.3" text-anchor="end">15</text><text x="330.9" y="664.7" text-anchor="end">16</text><text x="330.9" y="639.1" text-anchor="end">17</text><text x="330.9" y="613.5" text-anchor="end">18</text><text x="330.9" y="587.9" text-anchor="end">19</text><text x="330.9" y="562.3" text-anchor="end">20</text><text x="335.6" y="697.6" text-anchor="middle">9</text><text x="541.8" y="697.6" text-anchor="middle">10</text></g>
<text transform="translate(321.4,624.7) rotate(-90)" font-size="8.4" font-weight="bold" text-anchor="middle" fill="#111">Displacement of the bar top <tspan font-style="italic">w</tspan>(<tspan font-style="italic">L</tspan>)/cm</text>
<text x="438.6" y="710.5" font-size="8.5" font-weight="bold" text-anchor="middle" fill="#111">Time t/year</text>
<text x="428.8" y="727.3" font-size="12" text-anchor="middle" fill="#222">IV. P=2500kN</text>
</svg>
</body></html>
